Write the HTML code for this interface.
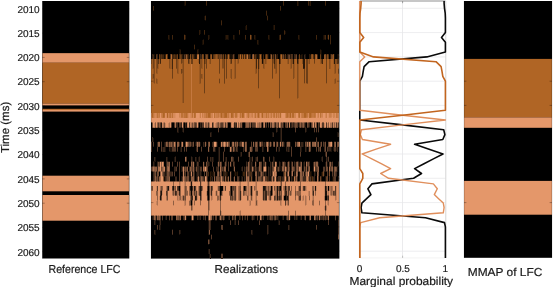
<!DOCTYPE html>
<html><head><meta charset="utf-8"><title>LFC realizations</title>
<style>html,body{margin:0;padding:0;background:#fff;overflow:hidden}svg{display:block}</style>
</head><body>
<svg width="553" height="287" viewBox="0 0 553 287"><rect x="42.3" y="1" width="86.9" height="257.5" fill="#000"/>
<rect x="42.3" y="53.15" width="86.9" height="9.65" fill="#E4976A"/>
<rect x="42.3" y="62.7" width="86.9" height="41" fill="#B06525"/>
<rect x="42.3" y="103.6" width="86.9" height="1.8" fill="#E4976A"/>
<rect x="42.3" y="108.8" width="86.9" height="1.2" fill="#B06525"/>
<rect x="42.3" y="109.8" width="86.9" height="1.8" fill="#E4976A"/>
<rect x="42.3" y="175.7" width="86.9" height="15.6" fill="#E4976A"/>
<rect x="42.3" y="195" width="86.9" height="25.7" fill="#E4976A"/>
<rect x="464" y="1" width="88" height="256.8" fill="#000"/>
<rect x="464" y="58.9" width="88" height="58.6" fill="#B06525"/>
<rect x="464" y="117.4" width="88" height="10.4" fill="#E4976A"/>
<rect x="464" y="180.9" width="88" height="33.8" fill="#E4976A"/>
<rect x="151" y="1" width="188.3" height="257.6" fill="#000"/>
<g shape-rendering="crispEdges">
<path fill="#844c1c" d="M151 59h1v5h-1zM153 68h1v1h-1zM153 78h1v1h-1zM154 59h1v24h-1zM156 59h1v14h-1zM156 79h1v4h-1zM157 68h1v1h-1zM166 54h1v1h-1zM169 59h1v9h-1zM172 78h1v1h-1zM176 68h1v1h-1zM177 59h1v14h-1zM181 63h1v1h-1zM181 73h1v1h-1zM182 59h1v4h-1zM182 69h1v4h-1zM183 59h1v44h-1zM189 59h1v5h-1zM190 55h1v4h-1zM200 59h1v24h-1zM201 59h1v9h-1zM201 74h1v4h-1zM202 55h1v4h-1zM205 59h1v5h-1zM206 68h1v1h-1zM210 59h1v5h-1zM215 55h1v4h-1zM216 54h1v1h-1zM217 55h1v4h-1zM219 73h1v1h-1zM222 59h1v9h-1zM223 59h1v9h-1zM224 83h1v1h-1zM226 78h1v1h-1zM228 54h1v1h-1zM230 59h1v5h-1zM231 69h1v10h-1zM235 59h1v19h-1zM238 59h1v4h-1zM240 54h1v1h-1zM250 35h1v4h-1zM256 69h1v4h-1zM260 54h1v1h-1zM263 64h1v4h-1zM265 59h1v5h-1zM266 55h1v4h-1zM272 78h1v1h-1zM273 59h1v4h-1zM274 68h1v1h-1zM275 59h1v10h-1zM276 59h1v14h-1zM281 54h1v1h-1zM288 59h1v5h-1zM291 59h1v9h-1zM292 59h1v5h-1zM293 64h1v15h-1zM297 64h1v34h-1zM302 59h1v5h-1zM307 83h1v1h-1zM309 59h1v5h-1zM311 55h1v4h-1zM312 54h1v1h-1zM314 63h1v1h-1zM315 54h1v1h-1zM321 63h1v1h-1zM327 55h1v4h-1zM329 59h1v10h-1zM333 54h1v1h-1zM335 59h1v14h-1zM335 79h1v4h-1zM336 59h1v5h-1zM338 73h1v1h-1z"/>
<path fill="#b06525" d="M151 64h1v49h-1zM152 69h1v5h-1zM152 79h1v38h-1zM153 83h1v30h-1zM154 84h1v29h-1zM155 59h1v54h-1zM156 74h1v4h-1zM156 84h1v29h-1zM157 74h1v5h-1zM157 84h1v29h-1zM158 69h1v44h-1zM159 64h1v49h-1zM160 64h1v49h-1zM161 59h1v54h-1zM162 59h1v54h-1zM163 59h1v58h-1zM164 59h1v54h-1zM165 59h1v54h-1zM166 55h1v58h-1zM167 59h1v58h-1zM168 59h1v54h-1zM169 69h1v44h-1zM170 69h1v44h-1zM171 69h1v44h-1zM172 79h1v34h-1zM173 59h1v54h-1zM174 59h1v54h-1zM175 59h1v54h-1zM176 69h1v44h-1zM177 74h1v39h-1zM178 74h1v39h-1zM179 59h1v54h-1zM180 59h1v54h-1zM181 64h1v5h-1zM181 74h1v39h-1zM182 103h1v10h-1zM183 103h1v10h-1zM184 59h1v54h-1zM185 59h1v54h-1zM186 59h1v54h-1zM187 59h1v54h-1zM188 64h1v49h-1zM189 64h1v49h-1zM190 59h1v54h-1zM192 64h1v49h-1zM193 59h1v54h-1zM194 59h1v54h-1zM195 59h1v54h-1zM196 59h1v54h-1zM197 59h1v54h-1zM198 63h1v50h-1zM199 84h1v29h-1zM200 84h1v29h-1zM201 69h1v5h-1zM201 79h1v34h-1zM202 69h1v5h-1zM202 79h1v34h-1zM203 59h1v54h-1zM204 94h1v19h-1zM205 64h1v49h-1zM206 69h1v44h-1zM207 59h1v54h-1zM208 59h1v58h-1zM209 64h1v53h-1zM210 64h1v49h-1zM211 59h1v54h-1zM212 59h1v54h-1zM213 59h1v54h-1zM214 59h1v54h-1zM215 59h1v54h-1zM216 59h1v54h-1zM217 59h1v54h-1zM218 59h1v54h-1zM219 74h1v4h-1zM219 84h1v29h-1zM220 59h1v54h-1zM221 59h1v58h-1zM222 69h1v44h-1zM223 69h1v44h-1zM224 84h1v29h-1zM225 59h1v58h-1zM226 79h1v38h-1zM227 59h1v54h-1zM228 55h1v58h-1zM229 59h1v54h-1zM230 64h1v5h-1zM230 78h1v35h-1zM231 64h1v5h-1zM231 79h1v38h-1zM232 59h1v54h-1zM233 59h1v54h-1zM234 79h1v34h-1zM235 79h1v34h-1zM236 59h1v54h-1zM237 64h1v49h-1zM238 64h1v49h-1zM239 59h1v54h-1zM240 55h1v58h-1zM241 59h1v54h-1zM242 59h1v58h-1zM243 59h1v54h-1zM244 59h1v54h-1zM245 59h1v54h-1zM246 59h1v54h-1zM247 59h1v54h-1zM248 59h1v54h-1zM249 59h1v54h-1zM250 59h1v54h-1zM251 59h1v54h-1zM252 59h1v54h-1zM253 59h1v54h-1zM254 59h1v54h-1zM255 74h1v39h-1zM256 74h1v39h-1zM257 59h1v54h-1zM258 89h1v28h-1zM259 69h1v44h-1zM260 55h1v58h-1zM261 64h1v49h-1zM262 64h1v53h-1zM263 69h1v44h-1zM264 69h1v44h-1zM265 64h1v49h-1zM266 64h1v49h-1zM267 59h1v54h-1zM268 59h1v54h-1zM269 59h1v54h-1zM270 59h1v54h-1zM271 59h1v54h-1zM272 79h1v34h-1zM273 64h1v49h-1zM274 69h1v44h-1zM275 74h1v39h-1zM276 74h1v39h-1zM277 59h1v54h-1zM278 59h1v54h-1zM279 99h1v14h-1zM280 64h1v49h-1zM281 55h1v58h-1zM282 59h1v54h-1zM283 59h1v54h-1zM284 59h1v54h-1zM285 59h1v54h-1zM286 59h1v54h-1zM287 64h1v49h-1zM288 64h1v49h-1zM289 59h1v54h-1zM290 69h1v48h-1zM291 69h1v44h-1zM292 64h1v49h-1zM293 79h1v34h-1zM294 78h1v35h-1zM295 59h1v54h-1zM296 59h1v54h-1zM297 99h1v14h-1zM298 98h1v15h-1zM299 59h1v54h-1zM300 59h1v54h-1zM301 59h1v54h-1zM302 64h1v49h-1zM303 69h1v44h-1zM304 84h1v33h-1zM305 59h1v58h-1zM306 84h1v29h-1zM307 84h1v29h-1zM308 64h1v49h-1zM309 64h1v49h-1zM310 59h1v58h-1zM311 59h1v54h-1zM312 59h1v54h-1zM313 59h1v54h-1zM314 64h1v49h-1zM315 59h1v54h-1zM316 59h1v54h-1zM317 59h1v54h-1zM318 59h1v54h-1zM319 59h1v54h-1zM320 64h1v49h-1zM321 64h1v49h-1zM322 64h1v49h-1zM323 59h1v54h-1zM324 59h1v54h-1zM325 59h1v54h-1zM326 84h1v29h-1zM327 59h1v54h-1zM328 59h1v54h-1zM329 69h1v44h-1zM330 69h1v44h-1zM331 59h1v54h-1zM332 59h1v54h-1zM333 64h1v49h-1zM334 74h1v5h-1zM334 84h1v29h-1zM335 74h1v4h-1zM335 84h1v29h-1zM336 64h1v49h-1zM337 64h1v49h-1zM338 64h1v4h-1zM338 74h1v39h-1z"/>
<path fill="#d08450" d="M151 113h1v4h-1zM154 113h1v5h-1zM156 113h1v5h-1zM161 117h1v1h-1zM168 113h1v5h-1zM171 113h1v5h-1zM179 113h1v4h-1zM191 113h1v5h-1zM202 117h1v1h-1zM211 113h1v5h-1zM212 113h1v5h-1zM215 113h1v5h-1zM219 113h1v4h-1zM237 113h1v4h-1zM241 117h1v1h-1zM244 113h1v5h-1zM247 117h1v1h-1zM249 113h1v4h-1zM251 113h1v4h-1zM252 117h1v1h-1zM254 113h1v5h-1zM261 117h1v1h-1zM263 113h1v5h-1zM264 113h1v5h-1zM265 113h1v5h-1zM267 113h1v5h-1zM270 113h1v5h-1zM277 113h1v4h-1zM279 113h1v5h-1zM285 113h1v5h-1zM291 113h1v5h-1zM294 113h1v5h-1zM295 113h1v5h-1zM307 177h1v4h-1zM318 117h1v1h-1zM321 113h1v4h-1zM322 113h1v4h-1zM329 117h1v1h-1zM330 117h1v1h-1zM331 113h1v4h-1zM333 113h1v5h-1zM334 113h1v4h-1z"/>
<path fill="#d78a59" d="M151 117h1v1h-1zM155 113h1v5h-1zM166 113h1v5h-1zM173 113h1v5h-1zM174 113h1v5h-1zM179 117h1v1h-1zM180 113h1v5h-1zM188 113h1v5h-1zM190 113h1v5h-1zM193 113h1v5h-1zM203 113h1v5h-1zM219 117h1v1h-1zM229 113h1v5h-1zM230 113h1v5h-1zM234 113h1v4h-1zM237 117h1v1h-1zM239 113h1v5h-1zM246 113h1v5h-1zM249 117h1v1h-1zM250 113h1v5h-1zM251 117h1v1h-1zM256 113h1v5h-1zM269 113h1v5h-1zM272 113h1v4h-1zM275 113h1v5h-1zM277 117h1v1h-1zM308 113h1v4h-1zM317 113h1v5h-1zM321 117h1v1h-1zM322 117h1v1h-1zM325 113h1v5h-1zM331 117h1v1h-1zM334 117h1v1h-1zM338 113h1v5h-1z"/>
<path fill="#e4976a" d="M151 118h1v4h-1zM151 182h1v4h-1zM151 191h1v24h-1zM152 118h1v4h-1zM152 182h1v4h-1zM152 191h1v24h-1zM153 118h1v9h-1zM153 182h1v33h-1zM154 118h1v5h-1zM154 182h1v33h-1zM155 118h1v4h-1zM155 182h1v33h-1zM156 118h1v9h-1zM156 182h1v4h-1zM156 196h1v5h-1zM156 205h1v10h-1zM157 118h1v4h-1zM157 182h1v4h-1zM157 206h1v9h-1zM158 118h1v4h-1zM158 182h1v33h-1zM159 118h1v4h-1zM159 182h1v14h-1zM159 200h1v15h-1zM160 113h1v9h-1zM160 162h1v9h-1zM160 182h1v4h-1zM160 201h1v14h-1zM161 118h1v4h-1zM161 172h1v14h-1zM161 201h1v14h-1zM162 118h1v5h-1zM162 162h1v4h-1zM162 177h1v9h-1zM162 195h1v20h-1zM163 118h1v4h-1zM163 182h1v33h-1zM164 118h1v4h-1zM164 182h1v33h-1zM165 118h1v5h-1zM165 182h1v33h-1zM166 118h1v9h-1zM166 182h1v4h-1zM166 201h1v14h-1zM167 118h1v9h-1zM167 182h1v4h-1zM167 201h1v14h-1zM168 118h1v5h-1zM168 182h1v4h-1zM168 191h1v24h-1zM169 118h1v4h-1zM169 182h1v4h-1zM169 191h1v24h-1zM170 118h1v9h-1zM170 182h1v33h-1zM171 118h1v4h-1zM171 182h1v33h-1zM172 118h1v4h-1zM172 182h1v4h-1zM172 196h1v19h-1zM173 118h1v4h-1zM173 196h1v4h-1zM173 206h1v9h-1zM174 118h1v4h-1zM174 182h1v4h-1zM174 196h1v19h-1zM175 118h1v4h-1zM175 182h1v4h-1zM175 196h1v19h-1zM176 113h1v9h-1zM176 182h1v8h-1zM176 196h1v19h-1zM177 113h1v9h-1zM177 182h1v4h-1zM177 201h1v14h-1zM178 113h1v9h-1zM178 182h1v4h-1zM178 201h1v14h-1zM179 118h1v4h-1zM179 201h1v14h-1zM180 118h1v4h-1zM180 201h1v14h-1zM181 118h1v4h-1zM181 182h1v14h-1zM181 201h1v14h-1zM182 118h1v9h-1zM182 182h1v13h-1zM182 201h1v14h-1zM183 118h1v4h-1zM183 181h1v14h-1zM183 201h1v14h-1zM184 118h1v4h-1zM184 206h1v9h-1zM185 118h1v4h-1zM185 206h1v9h-1zM186 118h1v4h-1zM186 142h1v4h-1zM186 182h1v4h-1zM186 196h1v19h-1zM187 118h1v4h-1zM187 182h1v8h-1zM187 196h1v19h-1zM188 118h1v9h-1zM188 182h1v33h-1zM189 118h1v4h-1zM189 182h1v4h-1zM189 196h1v4h-1zM189 206h1v9h-1zM190 118h1v4h-1zM190 206h1v9h-1zM191 118h1v4h-1zM191 211h1v4h-1zM192 118h1v4h-1zM192 211h1v9h-1zM193 118h1v4h-1zM193 182h1v4h-1zM193 196h1v19h-1zM194 118h1v4h-1zM194 182h1v4h-1zM194 206h1v9h-1zM195 118h1v4h-1zM195 182h1v4h-1zM195 201h1v14h-1zM196 113h1v9h-1zM196 182h1v4h-1zM196 201h1v14h-1zM197 113h1v14h-1zM197 182h1v9h-1zM197 200h1v15h-1zM198 113h1v9h-1zM198 182h1v4h-1zM198 196h1v19h-1zM199 118h1v4h-1zM199 182h1v4h-1zM199 196h1v19h-1zM200 118h1v4h-1zM200 206h1v9h-1zM201 113h1v9h-1zM201 201h1v14h-1zM202 118h1v4h-1zM202 182h1v4h-1zM202 191h1v24h-1zM203 118h1v4h-1zM203 182h1v33h-1zM204 118h1v9h-1zM204 182h1v33h-1zM205 118h1v4h-1zM205 167h1v4h-1zM205 177h1v38h-1zM206 118h1v4h-1zM206 182h1v9h-1zM206 196h1v19h-1zM207 118h1v4h-1zM207 201h1v14h-1zM208 118h1v4h-1zM209 118h1v4h-1zM209 211h1v9h-1zM210 118h1v9h-1zM210 182h1v4h-1zM210 196h1v19h-1zM211 118h1v9h-1zM211 182h1v4h-1zM211 201h1v14h-1zM212 118h1v4h-1zM212 182h1v4h-1zM212 200h1v15h-1zM213 113h1v9h-1zM213 182h1v33h-1zM214 118h1v9h-1zM214 142h1v4h-1zM214 182h1v33h-1zM215 118h1v5h-1zM215 142h1v4h-1zM215 182h1v9h-1zM215 196h1v19h-1zM216 118h1v4h-1zM216 182h1v8h-1zM216 196h1v19h-1zM217 118h1v4h-1zM217 182h1v4h-1zM217 201h1v14h-1zM218 118h1v4h-1zM218 182h1v4h-1zM218 191h1v4h-1zM218 201h1v14h-1zM219 118h1v4h-1zM219 182h1v4h-1zM219 201h1v14h-1zM220 118h1v4h-1zM221 118h1v4h-1zM221 181h1v5h-1zM221 200h1v11h-1zM222 118h1v4h-1zM222 182h1v4h-1zM222 196h1v19h-1zM223 118h1v4h-1zM223 182h1v4h-1zM223 191h1v24h-1zM224 118h1v4h-1zM224 142h1v4h-1zM224 182h1v4h-1zM224 191h1v24h-1zM225 118h1v4h-1zM225 182h1v4h-1zM225 191h1v24h-1zM226 118h1v4h-1zM226 182h1v33h-1zM227 118h1v4h-1zM227 182h1v33h-1zM228 118h1v4h-1zM228 182h1v33h-1zM229 118h1v4h-1zM229 182h1v9h-1zM229 196h1v19h-1zM230 118h1v4h-1zM230 182h1v4h-1zM230 201h1v14h-1zM231 118h1v4h-1zM231 182h1v4h-1zM231 201h1v14h-1zM232 118h1v9h-1zM232 182h1v4h-1zM232 201h1v14h-1zM233 118h1v5h-1zM233 182h1v4h-1zM233 201h1v14h-1zM234 118h1v4h-1zM234 182h1v4h-1zM234 201h1v14h-1zM235 118h1v4h-1zM235 182h1v4h-1zM235 201h1v14h-1zM236 118h1v4h-1zM236 182h1v4h-1zM236 200h1v15h-1zM237 118h1v9h-1zM237 182h1v33h-1zM238 117h1v5h-1zM238 182h1v4h-1zM238 201h1v14h-1zM239 118h1v5h-1zM239 201h1v10h-1zM240 118h1v4h-1zM240 201h1v9h-1zM241 118h1v4h-1zM241 182h1v9h-1zM241 200h1v15h-1zM242 118h1v4h-1zM242 182h1v33h-1zM243 118h1v4h-1zM243 182h1v4h-1zM243 196h1v19h-1zM244 118h1v4h-1zM244 182h1v4h-1zM244 196h1v19h-1zM245 113h1v9h-1zM245 182h1v4h-1zM245 196h1v19h-1zM246 118h1v4h-1zM246 182h1v4h-1zM246 196h1v19h-1zM247 118h1v4h-1zM247 201h1v14h-1zM248 118h1v4h-1zM248 201h1v14h-1zM249 118h1v4h-1zM249 182h1v4h-1zM249 196h1v4h-1zM249 206h1v9h-1zM250 118h1v4h-1zM250 182h1v4h-1zM250 206h1v9h-1zM251 118h1v4h-1zM251 182h1v4h-1zM251 201h1v14h-1zM252 118h1v4h-1zM252 182h1v4h-1zM252 201h1v14h-1zM253 118h1v4h-1zM253 182h1v33h-1zM254 118h1v4h-1zM254 182h1v4h-1zM254 191h1v24h-1zM255 118h1v4h-1zM255 206h1v9h-1zM256 118h1v9h-1zM256 206h1v9h-1zM257 118h1v4h-1zM257 182h1v8h-1zM257 196h1v4h-1zM257 206h1v9h-1zM258 118h1v4h-1zM258 182h1v33h-1zM259 118h1v4h-1zM259 182h1v33h-1zM260 118h1v4h-1zM260 182h1v34h-1zM261 118h1v4h-1zM261 182h1v33h-1zM262 118h1v4h-1zM262 182h1v4h-1zM262 200h1v15h-1zM263 118h1v4h-1zM263 182h1v4h-1zM263 201h1v14h-1zM264 118h1v4h-1zM264 167h1v4h-1zM264 182h1v4h-1zM264 201h1v14h-1zM265 118h1v4h-1zM265 167h1v4h-1zM265 182h1v4h-1zM265 201h1v14h-1zM266 118h1v4h-1zM266 182h1v4h-1zM266 201h1v14h-1zM267 118h1v4h-1zM267 182h1v4h-1zM267 196h1v19h-1zM268 118h1v4h-1zM268 182h1v4h-1zM268 200h1v15h-1zM269 118h1v4h-1zM269 182h1v4h-1zM269 201h1v14h-1zM270 118h1v4h-1zM270 182h1v4h-1zM270 201h1v14h-1zM271 118h1v4h-1zM271 182h1v4h-1zM271 200h1v15h-1zM272 118h1v4h-1zM272 182h1v4h-1zM272 196h1v19h-1zM273 118h1v4h-1zM273 172h1v4h-1zM273 182h1v33h-1zM274 118h1v4h-1zM274 182h1v4h-1zM274 201h1v14h-1zM275 118h1v4h-1zM275 167h1v4h-1zM275 177h1v9h-1zM275 201h1v14h-1zM276 118h1v4h-1zM276 182h1v4h-1zM276 201h1v14h-1zM277 118h1v4h-1zM277 182h1v4h-1zM277 201h1v14h-1zM278 118h1v4h-1zM278 182h1v4h-1zM278 201h1v14h-1zM279 118h1v9h-1zM279 182h1v4h-1zM279 201h1v14h-1zM280 118h1v4h-1zM280 206h1v9h-1zM281 118h1v4h-1zM281 206h1v9h-1zM282 113h1v9h-1zM282 182h1v33h-1zM283 113h1v9h-1zM283 182h1v4h-1zM283 191h1v4h-1zM283 201h1v14h-1zM284 113h1v9h-1zM284 182h1v4h-1zM284 201h1v14h-1zM285 118h1v4h-1zM285 206h1v9h-1zM286 118h1v4h-1zM286 182h1v4h-1zM286 205h1v10h-1zM287 118h1v4h-1zM287 182h1v4h-1zM287 206h1v9h-1zM288 118h1v4h-1zM288 182h1v4h-1zM288 206h1v4h-1zM289 118h1v4h-1zM289 182h1v4h-1zM289 196h1v20h-1zM290 118h1v4h-1zM290 182h1v8h-1zM290 196h1v19h-1zM291 118h1v4h-1zM291 182h1v4h-1zM291 196h1v19h-1zM292 118h1v4h-1zM292 182h1v33h-1zM293 118h1v4h-1zM293 182h1v33h-1zM294 118h1v4h-1zM294 182h1v33h-1zM295 118h1v4h-1zM295 182h1v4h-1zM295 201h1v9h-1zM296 113h1v9h-1zM296 182h1v9h-1zM296 196h1v19h-1zM297 113h1v9h-1zM297 182h1v9h-1zM297 196h1v19h-1zM298 118h1v4h-1zM298 182h1v4h-1zM298 201h1v14h-1zM299 118h1v4h-1zM299 182h1v4h-1zM299 201h1v14h-1zM300 118h1v4h-1zM300 201h1v14h-1zM301 118h1v4h-1zM301 182h1v33h-1zM302 118h1v4h-1zM302 182h1v4h-1zM302 191h1v5h-1zM302 201h1v14h-1zM303 118h1v4h-1zM303 182h1v4h-1zM303 191h1v4h-1zM303 201h1v14h-1zM304 118h1v4h-1zM304 182h1v4h-1zM304 191h1v24h-1zM305 118h1v4h-1zM305 182h1v4h-1zM305 191h1v4h-1zM305 206h1v9h-1zM306 118h1v4h-1zM306 182h1v4h-1zM306 191h1v5h-1zM306 205h1v10h-1zM307 118h1v4h-1zM307 182h1v33h-1zM308 118h1v4h-1zM308 172h1v4h-1zM308 182h1v9h-1zM308 196h1v19h-1zM309 118h1v4h-1zM309 182h1v9h-1zM309 201h1v14h-1zM310 118h1v4h-1zM310 182h1v33h-1zM311 118h1v4h-1zM311 182h1v33h-1zM312 118h1v4h-1zM312 182h1v4h-1zM312 206h1v9h-1zM313 118h1v9h-1zM313 182h1v4h-1zM313 206h1v9h-1zM314 118h1v4h-1zM314 167h1v4h-1zM314 182h1v4h-1zM314 191h1v24h-1zM315 118h1v4h-1zM315 182h1v4h-1zM315 196h1v19h-1zM316 113h1v9h-1zM316 182h1v4h-1zM316 191h1v24h-1zM317 118h1v4h-1zM317 182h1v33h-1zM318 118h1v4h-1zM318 182h1v33h-1zM319 113h1v9h-1zM319 182h1v18h-1zM319 206h1v9h-1zM320 118h1v9h-1zM320 182h1v33h-1zM321 118h1v5h-1zM321 182h1v33h-1zM322 118h1v4h-1zM322 182h1v33h-1zM323 113h1v9h-1zM323 182h1v33h-1zM324 113h1v10h-1zM324 182h1v4h-1zM324 201h1v5h-1zM324 210h1v5h-1zM325 118h1v9h-1zM326 118h1v4h-1zM326 182h1v4h-1zM326 201h1v4h-1zM326 211h1v4h-1zM327 113h1v10h-1zM327 182h1v4h-1zM327 205h1v10h-1zM328 118h1v4h-1zM328 182h1v4h-1zM328 206h1v9h-1zM329 118h1v9h-1zM329 182h1v4h-1zM329 191h1v24h-1zM330 118h1v4h-1zM330 182h1v4h-1zM330 196h1v19h-1zM331 118h1v4h-1zM331 142h1v4h-1zM331 182h1v4h-1zM331 196h1v19h-1zM332 117h1v5h-1zM332 182h1v4h-1zM332 196h1v19h-1zM333 118h1v4h-1zM333 182h1v8h-1zM333 196h1v19h-1zM334 118h1v4h-1zM334 182h1v8h-1zM334 196h1v19h-1zM335 118h1v4h-1zM335 182h1v4h-1zM335 201h1v14h-1zM336 118h1v4h-1zM336 182h1v4h-1zM336 200h1v15h-1zM337 118h1v4h-1zM337 182h1v33h-1zM338 118h1v4h-1zM338 182h1v33h-1z"/>
<path fill="#563928" d="M151 122h1v1h-1zM151 142h1v10h-1zM151 167h1v4h-1zM152 127h1v1h-1zM153 142h1v4h-1zM154 166h1v1h-1zM154 172h1v9h-1zM156 171h1v1h-1zM156 177h1v4h-1zM157 147h1v4h-1zM157 171h1v1h-1zM157 186h1v5h-1zM157 225h1v4h-1zM158 123h1v4h-1zM159 162h1v4h-1zM159 171h1v1h-1zM159 176h1v1h-1zM160 123h1v5h-1zM160 191h1v4h-1zM160 216h1v4h-1zM161 142h1v9h-1zM161 190h1v1h-1zM162 216h1v4h-1zM163 172h1v4h-1zM164 127h1v1h-1zM164 166h1v1h-1zM166 176h1v5h-1zM166 191h1v4h-1zM167 186h1v5h-1zM168 190h1v1h-1zM169 172h1v4h-1zM169 216h1v4h-1zM171 123h1v4h-1zM171 216h1v4h-1zM172 122h1v1h-1zM172 142h1v9h-1zM172 162h1v4h-1zM172 172h1v4h-1zM172 186h1v4h-1zM172 216h1v4h-1zM172 230h1v4h-1zM173 122h1v1h-1zM173 142h1v9h-1zM173 181h1v1h-1zM174 123h1v4h-1zM174 147h1v4h-1zM174 172h1v4h-1zM175 147h1v4h-1zM176 167h1v4h-1zM176 191h1v4h-1zM177 147h1v4h-1zM177 162h1v4h-1zM177 186h1v4h-1zM178 122h1v1h-1zM178 190h1v1h-1zM179 123h1v4h-1zM179 162h1v19h-1zM179 195h1v1h-1zM179 216h1v4h-1zM180 123h1v4h-1zM182 167h1v4h-1zM182 177h1v4h-1zM183 123h1v5h-1zM183 166h1v1h-1zM183 196h1v4h-1zM184 55h1v4h-1zM184 122h1v1h-1zM184 147h1v4h-1zM184 167h1v4h-1zM184 216h1v4h-1zM185 142h1v5h-1zM185 172h1v4h-1zM186 147h1v4h-1zM186 157h1v4h-1zM186 167h1v4h-1zM186 177h1v4h-1zM187 172h1v4h-1zM188 146h1v1h-1zM188 162h1v4h-1zM188 172h1v4h-1zM189 123h1v5h-1zM189 142h1v5h-1zM190 146h1v1h-1zM190 171h1v1h-1zM191 161h1v1h-1zM191 181h1v1h-1zM191 216h1v4h-1zM192 127h1v1h-1zM192 162h1v9h-1zM192 176h1v1h-1zM192 190h1v1h-1zM193 146h1v1h-1zM194 127h1v1h-1zM194 191h1v4h-1zM195 123h1v4h-1zM195 186h1v4h-1zM196 127h1v1h-1zM196 142h1v4h-1zM196 171h1v1h-1zM196 191h1v5h-1zM197 162h1v4h-1zM197 177h1v4h-1zM198 123h1v4h-1zM198 146h1v1h-1zM199 122h1v1h-1zM199 186h1v9h-1zM200 167h1v4h-1zM200 176h1v10h-1zM201 147h1v4h-1zM201 167h1v4h-1zM202 123h1v4h-1zM202 176h1v1h-1zM203 123h1v4h-1zM203 171h1v1h-1zM203 177h1v4h-1zM204 166h1v1h-1zM204 172h1v4h-1zM205 166h1v1h-1zM205 216h1v4h-1zM207 157h1v5h-1zM207 166h1v6h-1zM207 186h1v5h-1zM207 196h1v4h-1zM208 123h1v4h-1zM208 182h1v4h-1zM209 181h1v1h-1zM209 186h1v14h-1zM209 221h1v9h-1zM209 234h1v1h-1zM210 220h1v1h-1zM211 195h1v1h-1zM211 235h1v4h-1zM212 162h1v4h-1zM213 142h1v9h-1zM213 167h1v4h-1zM214 147h1v4h-1zM214 172h1v4h-1zM215 216h1v4h-1zM216 176h1v1h-1zM216 216h1v4h-1zM217 171h1v1h-1zM218 127h1v5h-1zM218 167h1v4h-1zM219 177h1v4h-1zM219 186h1v5h-1zM220 127h1v1h-1zM220 200h1v1h-1zM220 211h1v4h-1zM221 123h1v4h-1zM221 162h1v14h-1zM221 216h1v4h-1zM221 225h1v4h-1zM221 254h1v4h-1zM222 123h1v4h-1zM222 146h1v1h-1zM222 167h1v4h-1zM222 176h1v1h-1zM222 225h1v5h-1zM222 254h1v4h-1zM223 152h1v9h-1zM223 177h1v4h-1zM224 147h1v4h-1zM224 166h1v1h-1zM224 171h1v1h-1zM225 123h1v4h-1zM225 186h1v4h-1zM226 146h1v1h-1zM227 127h1v1h-1zM228 122h1v1h-1zM228 146h1v1h-1zM228 162h1v9h-1zM228 176h1v1h-1zM229 122h1v1h-1zM229 142h1v5h-1zM230 166h1v1h-1zM230 186h1v14h-1zM230 221h1v4h-1zM231 151h1v1h-1zM231 161h1v1h-1zM232 157h1v4h-1zM232 186h1v14h-1zM233 162h1v4h-1zM233 186h1v4h-1zM234 147h1v4h-1zM234 166h1v1h-1zM234 176h1v1h-1zM235 123h1v4h-1zM235 186h1v14h-1zM236 142h1v9h-1zM237 177h1v4h-1zM238 157h1v4h-1zM238 177h1v4h-1zM238 221h1v4h-1zM240 127h1v1h-1zM240 142h1v4h-1zM240 181h1v1h-1zM241 142h1v4h-1zM242 216h1v4h-1zM243 122h1v1h-1zM244 122h1v1h-1zM245 123h1v5h-1zM246 151h1v1h-1zM246 166h1v1h-1zM247 167h1v5h-1zM247 216h1v4h-1zM248 172h1v4h-1zM249 123h1v4h-1zM249 161h1v20h-1zM251 142h1v5h-1zM252 54h1v1h-1zM252 123h1v4h-1zM252 157h1v4h-1zM252 166h1v1h-1zM252 216h1v4h-1zM253 123h1v4h-1zM253 167h1v4h-1zM254 123h1v4h-1zM255 127h1v1h-1zM255 147h1v4h-1zM255 167h1v4h-1zM255 176h1v5h-1zM256 147h1v4h-1zM257 142h1v9h-1zM257 157h1v4h-1zM257 216h1v4h-1zM258 176h1v1h-1zM259 142h1v4h-1zM259 171h1v1h-1zM259 176h1v1h-1zM259 221h1v4h-1zM260 172h1v4h-1zM261 123h1v4h-1zM261 142h1v4h-1zM261 162h1v9h-1zM261 177h1v4h-1zM262 122h1v1h-1zM262 142h1v4h-1zM262 172h1v4h-1zM263 161h1v1h-1zM263 166h1v1h-1zM263 172h1v4h-1zM265 176h1v5h-1zM266 123h1v4h-1zM266 167h1v4h-1zM266 176h1v5h-1zM267 122h1v1h-1zM268 123h1v4h-1zM268 146h1v5h-1zM269 122h1v1h-1zM269 157h1v4h-1zM270 196h1v4h-1zM271 123h1v4h-1zM271 177h1v4h-1zM271 216h1v4h-1zM272 167h1v4h-1zM272 216h1v4h-1zM273 146h1v1h-1zM273 166h1v1h-1zM274 127h1v1h-1zM274 166h1v1h-1zM274 196h1v4h-1zM274 216h1v4h-1zM276 142h1v9h-1zM276 171h1v1h-1zM276 176h1v1h-1zM278 123h1v4h-1zM279 191h1v5h-1zM280 196h1v4h-1zM281 123h1v5h-1zM281 181h1v1h-1zM282 127h1v1h-1zM282 162h1v4h-1zM283 142h1v4h-1zM283 171h1v1h-1zM284 122h1v1h-1zM284 162h1v9h-1zM285 123h1v4h-1zM285 201h1v4h-1zM286 123h1v5h-1zM286 171h1v1h-1zM287 171h1v1h-1zM288 55h1v4h-1zM288 186h1v15h-1zM288 216h1v4h-1zM289 167h1v4h-1zM289 186h1v4h-1zM291 147h1v9h-1zM291 171h1v5h-1zM292 123h1v4h-1zM294 123h1v4h-1zM294 167h1v4h-1zM295 128h1v4h-1zM295 176h1v5h-1zM296 127h1v1h-1zM297 123h1v5h-1zM297 176h1v1h-1zM298 166h1v5h-1zM299 123h1v4h-1zM299 166h1v1h-1zM299 186h1v5h-1zM299 196h1v4h-1zM300 152h1v4h-1zM300 162h1v4h-1zM300 186h1v5h-1zM300 196h1v4h-1zM301 123h1v4h-1zM302 127h1v1h-1zM302 172h1v4h-1zM303 171h1v1h-1zM303 176h1v1h-1zM303 186h1v4h-1zM304 123h1v4h-1zM304 166h1v1h-1zM304 171h1v1h-1zM304 190h1v1h-1zM305 146h1v1h-1zM305 172h1v4h-1zM306 122h1v1h-1zM306 142h1v5h-1zM307 127h1v1h-1zM307 162h1v4h-1zM307 171h1v1h-1zM308 123h1v4h-1zM308 142h1v5h-1zM309 216h1v4h-1zM310 122h1v1h-1zM310 147h1v4h-1zM310 177h1v4h-1zM311 123h1v4h-1zM313 195h1v1h-1zM314 123h1v9h-1zM315 162h1v9h-1zM316 128h1v4h-1zM316 138h1v4h-1zM316 147h1v4h-1zM316 167h1v4h-1zM316 225h1v4h-1zM317 122h1v1h-1zM317 142h1v5h-1zM317 216h1v4h-1zM318 123h1v9h-1zM318 147h1v4h-1zM318 166h1v1h-1zM318 176h1v5h-1zM320 146h1v1h-1zM320 151h1v1h-1zM321 146h1v1h-1zM322 123h1v4h-1zM323 123h1v4h-1zM323 142h1v4h-1zM323 167h1v4h-1zM323 216h1v4h-1zM324 167h1v4h-1zM325 151h1v1h-1zM325 181h1v1h-1zM325 200h1v1h-1zM325 210h1v1h-1zM325 216h1v4h-1zM326 123h1v4h-1zM326 161h1v1h-1zM326 186h1v5h-1zM327 147h1v4h-1zM327 171h1v5h-1zM327 196h1v4h-1zM328 157h1v4h-1zM328 220h1v5h-1zM329 162h1v4h-1zM329 176h1v5h-1zM330 167h1v4h-1zM331 166h1v1h-1zM332 123h1v4h-1zM332 162h1v4h-1zM332 172h1v4h-1zM333 191h1v4h-1zM334 147h1v4h-1zM334 176h1v5h-1zM335 147h1v4h-1zM335 172h1v9h-1zM335 186h1v9h-1zM335 216h1v4h-1zM336 123h1v5h-1zM336 171h1v1h-1zM338 123h1v4h-1zM338 220h1v14h-1z"/>
<path fill="#1c130d" d="M151 141h1v1h-1zM151 166h1v1h-1zM151 171h1v1h-1zM152 216h1v4h-1zM153 138h1v4h-1zM153 161h1v1h-1zM154 161h1v5h-1zM154 234h1v1h-1zM155 157h1v5h-1zM155 221h1v4h-1zM155 230h1v5h-1zM156 172h1v4h-1zM156 216h1v4h-1zM157 161h1v1h-1zM157 220h1v1h-1zM158 141h1v1h-1zM158 161h1v1h-1zM158 220h1v1h-1zM159 141h1v1h-1zM159 161h1v1h-1zM159 221h1v4h-1zM160 196h1v4h-1zM160 225h1v5h-1zM161 123h1v5h-1zM161 141h1v1h-1zM161 191h1v4h-1zM162 147h1v5h-1zM162 220h1v1h-1zM164 142h1v5h-1zM165 147h1v5h-1zM165 167h1v9h-1zM165 216h1v4h-1zM166 141h1v1h-1zM167 141h1v1h-1zM167 157h1v4h-1zM168 161h1v1h-1zM168 186h1v4h-1zM169 141h1v1h-1zM169 151h1v1h-1zM169 161h1v1h-1zM169 220h1v1h-1zM170 141h1v1h-1zM170 147h1v5h-1zM170 171h1v1h-1zM170 176h1v1h-1zM171 141h1v1h-1zM171 147h1v5h-1zM171 171h1v1h-1zM171 176h1v1h-1zM171 220h1v1h-1zM172 141h1v1h-1zM172 161h1v1h-1zM172 171h1v1h-1zM172 176h1v1h-1zM172 220h1v1h-1zM172 229h1v1h-1zM173 141h1v1h-1zM173 186h1v4h-1zM174 141h1v1h-1zM174 157h1v5h-1zM174 166h1v1h-1zM174 176h1v1h-1zM175 141h1v1h-1zM175 156h1v1h-1zM175 166h1v1h-1zM175 171h1v1h-1zM175 176h1v1h-1zM176 127h1v1h-1zM176 166h1v1h-1zM176 171h1v1h-1zM176 176h1v1h-1zM176 220h1v1h-1zM177 132h1v1h-1zM177 141h1v1h-1zM177 161h1v1h-1zM177 220h1v1h-1zM178 127h1v6h-1zM178 141h1v1h-1zM178 220h1v1h-1zM179 146h1v1h-1zM179 161h1v1h-1zM179 220h1v1h-1zM179 234h1v1h-1zM180 147h1v5h-1zM180 220h1v1h-1zM180 230h1v4h-1zM181 127h1v1h-1zM181 141h1v1h-1zM181 166h1v6h-1zM181 176h1v5h-1zM182 128h1v4h-1zM182 141h1v1h-1zM182 166h1v1h-1zM182 172h1v4h-1zM183 132h1v1h-1zM183 142h1v5h-1zM184 146h1v1h-1zM184 166h1v1h-1zM184 220h1v1h-1zM185 141h1v1h-1zM185 156h1v1h-1zM185 220h1v1h-1zM186 123h1v5h-1zM186 156h1v1h-1zM186 166h1v1h-1zM186 216h1v4h-1zM187 141h1v1h-1zM188 141h1v1h-1zM188 161h1v1h-1zM189 141h1v1h-1zM189 166h1v1h-1zM189 172h1v9h-1zM190 141h1v1h-1zM190 176h1v5h-1zM190 186h1v4h-1zM191 146h1v1h-1zM191 156h1v1h-1zM191 182h1v4h-1zM191 195h1v1h-1zM191 200h1v1h-1zM191 220h1v1h-1zM192 157h1v4h-1zM192 172h1v4h-1zM193 141h1v1h-1zM193 220h1v1h-1zM194 162h1v5h-1zM194 186h1v5h-1zM195 142h1v4h-1zM195 161h1v1h-1zM195 167h1v4h-1zM195 196h1v4h-1zM196 54h1v5h-1zM196 141h1v1h-1zM196 151h1v1h-1zM196 157h1v9h-1zM196 172h1v9h-1zM197 141h1v1h-1zM197 161h1v1h-1zM198 141h1v1h-1zM198 157h1v5h-1zM198 216h1v4h-1zM199 141h1v1h-1zM199 156h1v1h-1zM199 166h1v11h-1zM199 216h1v4h-1zM200 142h1v4h-1zM200 166h1v1h-1zM200 186h1v10h-1zM201 54h1v1h-1zM201 123h1v5h-1zM201 146h1v1h-1zM201 166h1v1h-1zM201 172h1v4h-1zM203 161h1v1h-1zM204 142h1v5h-1zM204 162h1v4h-1zM204 216h1v4h-1zM205 141h1v1h-1zM205 220h1v1h-1zM206 142h1v4h-1zM206 161h1v1h-1zM207 156h1v1h-1zM207 191h1v4h-1zM208 141h1v1h-1zM208 161h1v1h-1zM208 166h1v1h-1zM208 181h1v1h-1zM208 221h1v14h-1zM208 244h1v1h-1zM208 249h1v5h-1zM209 141h1v1h-1zM209 147h1v5h-1zM209 162h1v4h-1zM209 239h1v1h-1zM209 254h1v4h-1zM210 132h1v1h-1zM210 161h1v1h-1zM210 258h1v1h-1zM211 132h1v5h-1zM211 157h1v5h-1zM211 177h1v4h-1zM211 220h1v1h-1zM211 234h1v1h-1zM211 239h1v1h-1zM212 176h1v1h-1zM212 216h1v4h-1zM213 141h1v1h-1zM213 157h1v5h-1zM213 166h1v1h-1zM214 171h1v1h-1zM215 147h1v5h-1zM215 176h1v5h-1zM215 220h1v1h-1zM216 141h1v1h-1zM216 166h1v1h-1zM216 171h1v1h-1zM216 220h1v1h-1zM217 142h1v5h-1zM217 162h1v5h-1zM218 132h1v1h-1zM218 147h1v14h-1zM219 166h1v1h-1zM219 171h1v1h-1zM220 142h1v5h-1zM220 161h1v1h-1zM220 195h1v1h-1zM220 220h1v1h-1zM221 141h1v1h-1zM221 161h1v1h-1zM221 220h1v1h-1zM221 253h1v1h-1zM222 141h1v1h-1zM222 166h1v1h-1zM222 171h1v1h-1zM222 190h1v1h-1zM222 253h1v1h-1zM223 141h1v1h-1zM223 151h1v1h-1zM223 166h1v1h-1zM223 220h1v1h-1zM224 162h1v4h-1zM224 176h1v5h-1zM225 141h1v1h-1zM225 157h1v4h-1zM226 141h1v1h-1zM226 166h1v1h-1zM227 141h1v1h-1zM228 141h1v1h-1zM228 161h1v1h-1zM228 171h1v1h-1zM228 216h1v4h-1zM229 141h1v1h-1zM229 147h1v5h-1zM230 123h1v5h-1zM230 146h1v1h-1zM230 161h1v1h-1zM231 142h1v4h-1zM231 156h1v1h-1zM231 162h1v5h-1zM231 171h1v10h-1zM231 195h1v1h-1zM232 141h1v1h-1zM232 147h1v5h-1zM232 156h1v1h-1zM232 220h1v1h-1zM233 141h1v1h-1zM233 167h1v4h-1zM233 177h1v4h-1zM234 127h1v1h-1zM234 161h1v1h-1zM234 220h1v5h-1zM235 141h1v1h-1zM235 147h1v5h-1zM236 141h1v1h-1zM237 141h1v1h-1zM238 142h1v4h-1zM238 156h1v1h-1zM239 146h1v1h-1zM239 176h1v5h-1zM240 141h1v1h-1zM240 152h1v5h-1zM240 216h1v4h-1zM241 141h1v1h-1zM241 156h1v1h-1zM241 167h1v4h-1zM241 176h1v5h-1zM242 123h1v5h-1zM242 141h1v1h-1zM242 166h1v1h-1zM242 171h1v1h-1zM242 176h1v1h-1zM242 220h1v1h-1zM243 141h1v1h-1zM244 142h1v9h-1zM244 166h1v1h-1zM244 190h1v1h-1zM244 216h1v4h-1zM245 141h1v1h-1zM245 167h1v14h-1zM246 141h1v1h-1zM246 161h1v1h-1zM247 162h1v4h-1zM247 220h1v1h-1zM248 161h1v1h-1zM249 147h1v4h-1zM250 146h1v1h-1zM250 157h1v14h-1zM250 177h1v4h-1zM251 123h1v4h-1zM251 141h1v1h-1zM251 157h1v5h-1zM251 186h1v9h-1zM251 216h1v4h-1zM251 234h1v1h-1zM252 146h1v1h-1zM252 151h1v1h-1zM252 156h1v1h-1zM252 162h1v4h-1zM252 172h1v9h-1zM252 220h1v1h-1zM252 230h1v5h-1zM253 141h1v1h-1zM253 166h1v1h-1zM253 171h1v1h-1zM254 142h1v5h-1zM254 166h1v6h-1zM254 216h1v4h-1zM255 141h1v1h-1zM255 157h1v4h-1zM256 141h1v1h-1zM256 161h1v6h-1zM257 141h1v1h-1zM257 156h1v1h-1zM257 167h1v14h-1zM257 220h1v1h-1zM258 166h1v1h-1zM259 141h1v1h-1zM259 161h1v1h-1zM259 172h1v4h-1zM259 216h1v4h-1zM260 141h1v1h-1zM260 161h1v1h-1zM260 220h1v1h-1zM261 141h1v1h-1zM261 161h1v1h-1zM261 220h1v1h-1zM262 141h1v1h-1zM262 171h1v1h-1zM262 216h1v4h-1zM263 142h1v10h-1zM263 156h1v1h-1zM263 186h1v5h-1zM264 172h1v4h-1zM264 186h1v4h-1zM265 123h1v5h-1zM265 142h1v5h-1zM265 161h1v1h-1zM266 141h1v1h-1zM266 162h1v4h-1zM266 172h1v4h-1zM267 141h1v1h-1zM267 234h1v1h-1zM268 141h1v1h-1zM268 166h1v1h-1zM268 216h1v4h-1zM268 225h1v9h-1zM269 156h1v1h-1zM269 167h1v14h-1zM270 141h1v1h-1zM270 161h1v1h-1zM270 176h1v5h-1zM270 220h1v1h-1zM271 146h1v1h-1zM271 162h1v14h-1zM271 220h1v1h-1zM272 132h1v5h-1zM272 161h1v1h-1zM272 220h1v1h-1zM273 132h1v1h-1zM273 141h1v1h-1zM273 156h1v1h-1zM273 216h1v4h-1zM274 54h1v5h-1zM274 141h1v1h-1zM274 157h1v9h-1zM274 220h1v1h-1zM275 127h1v1h-1zM275 220h1v1h-1zM276 132h1v1h-1zM276 141h1v1h-1zM276 161h1v1h-1zM277 128h1v4h-1zM277 141h1v1h-1zM277 166h1v1h-1zM277 171h1v1h-1zM277 177h1v4h-1zM277 186h1v14h-1zM278 142h1v10h-1zM278 166h1v1h-1zM278 216h1v9h-1zM279 142h1v5h-1zM279 151h1v1h-1zM279 161h1v1h-1zM279 171h1v1h-1zM279 220h1v1h-1zM280 128h1v13h-1zM280 162h1v9h-1zM280 190h1v1h-1zM281 146h1v1h-1zM281 166h1v6h-1zM281 176h1v5h-1zM282 141h1v1h-1zM282 161h1v1h-1zM282 176h1v1h-1zM282 216h1v4h-1zM283 141h1v1h-1zM283 161h1v1h-1zM284 142h1v5h-1zM284 161h1v1h-1zM285 186h1v4h-1zM285 195h1v1h-1zM286 151h1v1h-1zM286 166h1v1h-1zM286 172h1v4h-1zM287 141h1v1h-1zM287 147h1v5h-1zM287 177h1v4h-1zM287 196h1v4h-1zM287 220h1v1h-1zM288 123h1v5h-1zM288 141h1v1h-1zM288 220h1v1h-1zM289 141h1v1h-1zM289 147h1v5h-1zM289 161h1v1h-1zM289 172h1v4h-1zM289 220h1v1h-1zM289 225h1v5h-1zM290 123h1v5h-1zM290 142h1v5h-1zM290 216h1v4h-1zM291 146h1v1h-1zM291 161h1v1h-1zM292 161h1v1h-1zM292 177h1v4h-1zM293 127h1v1h-1zM294 161h1v1h-1zM295 132h1v1h-1zM295 141h1v1h-1zM295 162h1v14h-1zM295 216h1v4h-1zM296 146h1v1h-1zM296 161h1v1h-1zM297 141h1v1h-1zM297 216h1v4h-1zM298 123h1v4h-1zM298 141h1v1h-1zM298 161h1v1h-1zM299 141h1v1h-1zM299 162h1v4h-1zM299 172h1v9h-1zM300 142h1v4h-1zM300 161h1v1h-1zM300 216h1v4h-1zM301 147h1v5h-1zM301 161h1v1h-1zM303 142h1v5h-1zM303 162h1v9h-1zM304 54h1v1h-1zM304 161h1v1h-1zM304 172h1v4h-1zM305 54h1v5h-1zM305 123h1v4h-1zM305 132h1v1h-1zM305 141h1v1h-1zM305 166h1v1h-1zM305 220h1v1h-1zM306 128h1v4h-1zM306 141h1v1h-1zM306 147h1v5h-1zM307 141h1v1h-1zM307 161h1v1h-1zM307 167h1v4h-1zM308 141h1v1h-1zM308 147h1v5h-1zM308 161h1v1h-1zM309 127h1v1h-1zM309 141h1v1h-1zM309 161h1v1h-1zM309 220h1v1h-1zM310 141h1v1h-1zM310 220h1v1h-1zM312 141h1v1h-1zM313 141h1v1h-1zM313 171h1v1h-1zM313 176h1v1h-1zM314 132h1v1h-1zM314 141h1v1h-1zM314 161h1v1h-1zM314 220h1v1h-1zM315 141h1v1h-1zM315 161h1v1h-1zM315 172h1v4h-1zM315 186h1v4h-1zM315 220h1v1h-1zM316 132h1v1h-1zM317 141h1v1h-1zM317 220h1v1h-1zM318 132h1v1h-1zM318 141h1v1h-1zM318 162h1v4h-1zM318 216h1v4h-1zM319 127h1v1h-1zM319 151h1v1h-1zM319 220h1v1h-1zM321 141h1v1h-1zM321 157h1v4h-1zM322 156h1v1h-1zM323 141h1v1h-1zM323 166h1v1h-1zM323 220h1v1h-1zM324 166h1v1h-1zM324 172h1v4h-1zM325 141h1v1h-1zM325 156h1v1h-1zM325 162h1v10h-1zM325 176h1v5h-1zM325 186h1v10h-1zM325 220h1v1h-1zM326 151h1v1h-1zM326 191h1v5h-1zM327 146h1v1h-1zM327 157h1v9h-1zM328 141h1v1h-1zM328 151h1v1h-1zM328 156h1v1h-1zM328 190h1v1h-1zM329 141h1v1h-1zM329 151h1v1h-1zM329 161h1v1h-1zM330 141h1v1h-1zM330 151h1v1h-1zM330 161h1v1h-1zM330 171h1v1h-1zM331 147h1v5h-1zM332 161h1v1h-1zM333 147h1v4h-1zM333 167h1v9h-1zM334 141h1v1h-1zM335 141h1v1h-1zM335 220h1v1h-1zM336 147h1v4h-1zM336 166h1v1h-1zM336 176h1v1h-1zM337 132h1v5h-1zM337 141h1v1h-1zM337 166h1v6h-1zM338 132h1v1h-1zM338 141h1v1h-1zM338 161h1v1h-1zM338 166h1v1h-1z"/>
<path fill="#724c35" d="M151 181h1v1h-1zM152 123h1v4h-1zM152 167h1v4h-1zM152 181h1v1h-1zM152 186h1v4h-1zM153 166h1v1h-1zM153 171h1v1h-1zM154 171h1v1h-1zM155 127h1v1h-1zM155 172h1v4h-1zM155 216h1v4h-1zM157 127h1v1h-1zM157 172h1v9h-1zM158 146h1v1h-1zM158 162h1v4h-1zM158 172h1v4h-1zM158 216h1v4h-1zM159 127h1v1h-1zM159 146h1v1h-1zM159 166h1v1h-1zM161 122h1v1h-1zM161 167h1v4h-1zM161 186h1v4h-1zM161 196h1v4h-1zM164 123h1v4h-1zM166 146h1v1h-1zM166 195h1v1h-1zM167 142h1v5h-1zM167 162h1v4h-1zM167 171h1v10h-1zM167 191h1v9h-1zM168 162h1v4h-1zM168 172h1v9h-1zM169 171h1v1h-1zM169 176h1v1h-1zM170 142h1v5h-1zM170 181h1v1h-1zM171 181h1v1h-1zM172 181h1v1h-1zM172 190h1v1h-1zM173 191h1v4h-1zM174 181h1v1h-1zM175 142h1v5h-1zM175 186h1v5h-1zM175 195h1v1h-1zM176 122h1v1h-1zM177 122h1v1h-1zM177 181h1v1h-1zM177 190h1v1h-1zM177 216h1v4h-1zM178 146h1v1h-1zM178 181h1v1h-1zM178 216h1v4h-1zM179 181h1v1h-1zM180 181h1v1h-1zM181 122h1v1h-1zM181 142h1v5h-1zM184 176h1v1h-1zM185 161h1v1h-1zM185 167h1v5h-1zM185 176h1v5h-1zM185 186h1v14h-1zM186 122h1v1h-1zM187 171h1v1h-1zM187 176h1v5h-1zM188 142h1v4h-1zM188 176h1v5h-1zM189 181h1v1h-1zM190 142h1v4h-1zM190 181h1v1h-1zM190 191h1v5h-1zM190 200h1v5h-1zM191 166h1v5h-1zM191 206h1v4h-1zM192 123h1v4h-1zM192 195h1v1h-1zM192 200h1v1h-1zM193 142h1v4h-1zM193 172h1v4h-1zM193 216h1v4h-1zM194 123h1v4h-1zM194 195h1v1h-1zM195 181h1v1h-1zM195 190h1v1h-1zM195 195h1v1h-1zM195 200h1v1h-1zM196 123h1v4h-1zM196 167h1v4h-1zM197 147h1v5h-1zM198 142h1v4h-1zM199 146h1v1h-1zM199 195h1v1h-1zM200 122h1v1h-1zM200 200h1v1h-1zM201 122h1v1h-1zM201 176h1v1h-1zM202 177h1v4h-1zM204 171h1v1h-1zM205 127h1v1h-1zM205 146h1v1h-1zM205 171h1v1h-1zM206 127h1v1h-1zM206 162h1v5h-1zM206 171h1v5h-1zM207 181h1v1h-1zM208 142h1v5h-1zM208 151h1v1h-1zM208 201h1v9h-1zM208 216h1v4h-1zM208 240h1v4h-1zM209 146h1v1h-1zM209 220h1v1h-1zM212 186h1v4h-1zM213 127h1v1h-1zM213 181h1v1h-1zM214 176h1v1h-1zM216 146h1v1h-1zM216 177h1v4h-1zM216 191h1v4h-1zM217 127h1v1h-1zM217 172h1v9h-1zM218 123h1v4h-1zM218 166h1v1h-1zM218 171h1v1h-1zM218 176h1v5h-1zM218 186h1v5h-1zM220 123h1v4h-1zM220 176h1v5h-1zM220 210h1v1h-1zM220 215h1v1h-1zM221 195h1v1h-1zM222 142h1v4h-1zM222 177h1v4h-1zM223 127h1v1h-1zM223 216h1v4h-1zM224 181h1v1h-1zM225 162h1v5h-1zM225 171h1v1h-1zM225 176h1v1h-1zM225 190h1v1h-1zM226 142h1v4h-1zM227 123h1v4h-1zM227 181h1v1h-1zM228 142h1v4h-1zM229 181h1v1h-1zM230 122h1v1h-1zM231 147h1v4h-1zM231 157h1v4h-1zM231 196h1v4h-1zM232 146h1v1h-1zM232 181h1v1h-1zM232 216h1v4h-1zM233 151h1v1h-1zM233 181h1v1h-1zM233 190h1v1h-1zM234 122h1v1h-1zM234 186h1v14h-1zM235 146h1v1h-1zM235 181h1v1h-1zM235 216h1v4h-1zM236 181h1v1h-1zM237 146h1v1h-1zM238 127h1v1h-1zM239 181h1v1h-1zM240 123h1v4h-1zM240 186h1v5h-1zM240 215h1v1h-1zM241 127h1v1h-1zM241 181h1v1h-1zM242 122h1v1h-1zM243 181h1v1h-1zM243 186h1v9h-1zM245 151h1v1h-1zM246 127h1v1h-1zM246 142h1v9h-1zM246 167h1v4h-1zM247 127h1v1h-1zM247 176h1v1h-1zM247 196h1v4h-1zM248 127h1v1h-1zM248 171h1v1h-1zM249 152h1v5h-1zM250 127h1v1h-1zM250 151h1v1h-1zM250 181h1v1h-1zM251 122h1v1h-1zM251 147h1v5h-1zM251 196h1v4h-1zM252 55h1v4h-1zM252 171h1v1h-1zM253 146h1v1h-1zM253 181h1v1h-1zM254 181h1v1h-1zM255 123h1v4h-1zM255 142h1v5h-1zM255 166h1v1h-1zM255 171h1v1h-1zM256 171h1v1h-1zM256 191h1v4h-1zM256 201h1v4h-1zM257 191h1v4h-1zM258 177h1v4h-1zM259 127h1v1h-1zM259 177h1v4h-1zM260 162h1v10h-1zM260 176h1v5h-1zM261 171h1v1h-1zM261 176h1v1h-1zM261 216h1v4h-1zM263 127h1v1h-1zM263 157h1v4h-1zM263 171h1v1h-1zM264 166h1v1h-1zM264 191h1v9h-1zM265 122h1v1h-1zM266 146h1v1h-1zM266 190h1v1h-1zM268 142h1v4h-1zM268 186h1v9h-1zM270 127h1v1h-1zM270 146h1v1h-1zM270 190h1v1h-1zM270 216h1v4h-1zM272 162h1v5h-1zM272 171h1v5h-1zM272 186h1v9h-1zM273 142h1v4h-1zM273 167h1v4h-1zM273 176h1v1h-1zM274 123h1v4h-1zM274 146h1v1h-1zM274 186h1v4h-1zM275 122h1v1h-1zM275 196h1v4h-1zM275 216h1v4h-1zM276 127h1v1h-1zM276 166h1v1h-1zM277 146h1v1h-1zM277 181h1v1h-1zM277 200h1v1h-1zM278 167h1v4h-1zM278 186h1v5h-1zM278 196h1v4h-1zM280 195h1v1h-1zM281 182h1v18h-1zM282 123h1v4h-1zM282 146h1v1h-1zM282 166h1v1h-1zM283 122h1v1h-1zM284 195h1v1h-1zM284 200h1v1h-1zM285 166h1v1h-1zM286 167h1v4h-1zM286 186h1v5h-1zM286 200h1v1h-1zM287 127h1v1h-1zM287 146h1v1h-1zM287 172h1v4h-1zM287 200h1v1h-1zM287 216h1v4h-1zM288 122h1v1h-1zM288 146h1v1h-1zM288 201h1v4h-1zM288 215h1v1h-1zM289 146h1v1h-1zM289 176h1v1h-1zM289 190h1v1h-1zM290 122h1v1h-1zM290 181h1v1h-1zM290 191h1v4h-1zM291 122h1v1h-1zM292 162h1v5h-1zM292 181h1v1h-1zM293 122h1v1h-1zM293 167h1v4h-1zM295 123h1v5h-1zM295 142h1v5h-1zM295 191h1v5h-1zM295 215h1v1h-1zM296 123h1v4h-1zM296 162h1v9h-1zM297 146h1v1h-1zM298 122h1v1h-1zM298 181h1v1h-1zM299 171h1v1h-1zM300 127h1v1h-1zM300 166h1v1h-1zM300 195h1v1h-1zM302 123h1v4h-1zM302 176h1v5h-1zM303 127h1v1h-1zM303 190h1v1h-1zM304 167h1v4h-1zM305 122h1v1h-1zM305 142h1v4h-1zM305 216h1v4h-1zM307 123h1v4h-1zM308 162h1v9h-1zM309 122h1v1h-1zM309 151h1v1h-1zM309 166h1v1h-1zM309 171h1v1h-1zM310 142h1v5h-1zM312 127h1v1h-1zM312 146h1v1h-1zM313 146h1v1h-1zM313 190h1v1h-1zM314 146h1v1h-1zM315 181h1v1h-1zM315 216h1v4h-1zM316 123h1v5h-1zM316 166h1v1h-1zM316 181h1v1h-1zM317 167h1v5h-1zM318 172h1v4h-1zM319 122h1v1h-1zM319 181h1v1h-1zM320 147h1v4h-1zM321 142h1v4h-1zM322 181h1v1h-1zM323 181h1v1h-1zM324 181h1v1h-1zM325 142h1v9h-1zM325 205h1v1h-1zM325 215h1v1h-1zM326 152h1v5h-1zM326 162h1v9h-1zM326 200h1v1h-1zM327 167h1v4h-1zM328 127h1v1h-1zM328 142h1v5h-1zM328 181h1v1h-1zM328 195h1v1h-1zM328 200h1v1h-1zM329 166h1v1h-1zM330 166h1v1h-1zM330 181h1v1h-1zM331 167h1v4h-1zM331 181h1v1h-1zM332 166h1v1h-1zM332 171h1v1h-1zM332 181h1v1h-1zM334 127h1v1h-1zM334 142h1v5h-1zM334 167h1v9h-1zM334 191h1v4h-1zM335 171h1v1h-1zM335 195h1v1h-1zM336 167h1v4h-1zM336 181h1v1h-1zM337 142h1v5h-1zM337 181h1v1h-1zM338 146h1v1h-1zM338 234h1v1h-1z"/>
<path fill="#8e5e42" d="M151 186h1v4h-1zM151 215h1v1h-1zM152 190h1v1h-1zM152 215h1v1h-1zM153 181h1v1h-1zM153 215h1v1h-1zM154 167h1v4h-1zM154 216h1v4h-1zM155 123h1v4h-1zM155 167h1v5h-1zM155 176h1v5h-1zM156 167h1v4h-1zM156 181h1v1h-1zM156 191h1v4h-1zM156 215h1v1h-1zM157 123h1v4h-1zM157 191h1v9h-1zM157 216h1v4h-1zM158 122h1v1h-1zM158 142h1v4h-1zM158 166h1v1h-1zM158 171h1v1h-1zM158 181h1v1h-1zM159 123h1v4h-1zM159 142h1v4h-1zM159 177h1v4h-1zM159 216h1v4h-1zM160 122h1v1h-1zM160 172h1v4h-1zM160 190h1v1h-1zM160 200h1v1h-1zM161 162h1v5h-1zM161 215h1v1h-1zM162 167h1v9h-1zM162 186h1v4h-1zM163 127h1v1h-1zM163 171h1v1h-1zM163 215h1v1h-1zM164 171h1v1h-1zM164 215h1v1h-1zM165 181h1v1h-1zM165 215h1v1h-1zM166 142h1v4h-1zM167 166h1v5h-1zM167 215h1v1h-1zM168 166h1v1h-1zM168 171h1v1h-1zM168 215h1v1h-1zM169 127h1v1h-1zM169 142h1v5h-1zM169 162h1v9h-1zM169 177h1v4h-1zM170 215h1v1h-1zM171 122h1v1h-1zM171 142h1v5h-1zM173 182h1v4h-1zM173 195h1v1h-1zM173 201h1v4h-1zM173 215h1v1h-1zM174 122h1v1h-1zM174 186h1v4h-1zM174 215h1v1h-1zM175 127h1v1h-1zM175 181h1v1h-1zM175 215h1v1h-1zM176 181h1v1h-1zM176 195h1v1h-1zM176 216h1v4h-1zM177 142h1v5h-1zM178 142h1v4h-1zM179 122h1v1h-1zM180 122h1v1h-1zM180 186h1v14h-1zM180 216h1v4h-1zM181 181h1v1h-1zM181 215h1v1h-1zM182 181h1v1h-1zM182 215h1v1h-1zM183 122h1v1h-1zM183 200h1v1h-1zM184 177h1v4h-1zM184 196h1v4h-1zM185 122h1v1h-1zM185 181h1v1h-1zM185 200h1v1h-1zM186 181h1v1h-1zM186 186h1v9h-1zM186 215h1v1h-1zM187 127h1v1h-1zM187 146h1v1h-1zM187 167h1v4h-1zM187 191h1v4h-1zM187 215h1v1h-1zM188 215h1v1h-1zM189 122h1v1h-1zM189 186h1v9h-1zM189 201h1v4h-1zM189 215h1v1h-1zM190 127h1v1h-1zM190 167h1v4h-1zM190 196h1v4h-1zM190 215h1v1h-1zM191 127h1v1h-1zM191 162h1v4h-1zM191 171h1v1h-1zM191 176h1v5h-1zM192 177h1v4h-1zM192 191h1v4h-1zM192 201h1v4h-1zM193 127h1v1h-1zM193 167h1v5h-1zM193 176h1v5h-1zM194 122h1v1h-1zM194 181h1v1h-1zM194 201h1v4h-1zM194 215h1v1h-1zM195 122h1v1h-1zM195 191h1v4h-1zM195 215h1v1h-1zM196 181h1v1h-1zM196 200h1v1h-1zM196 215h1v1h-1zM197 181h1v1h-1zM198 122h1v1h-1zM198 176h1v1h-1zM198 215h1v1h-1zM199 142h1v4h-1zM199 181h1v1h-1zM199 215h1v1h-1zM200 201h1v4h-1zM200 215h1v1h-1zM201 177h1v4h-1zM201 191h1v9h-1zM201 215h1v1h-1zM202 122h1v1h-1zM202 186h1v4h-1zM202 215h1v1h-1zM203 122h1v1h-1zM203 162h1v5h-1zM204 167h1v4h-1zM204 181h1v1h-1zM204 215h1v1h-1zM205 123h1v4h-1zM205 142h1v4h-1zM206 123h1v4h-1zM206 167h1v4h-1zM206 176h1v1h-1zM206 215h1v1h-1zM207 127h1v1h-1zM207 200h1v1h-1zM207 215h1v1h-1zM208 122h1v1h-1zM208 147h1v4h-1zM208 210h1v6h-1zM209 127h1v1h-1zM209 142h1v4h-1zM209 200h1v1h-1zM209 230h1v4h-1zM211 181h1v1h-1zM211 216h1v4h-1zM212 122h1v1h-1zM212 181h1v1h-1zM212 190h1v1h-1zM212 215h1v1h-1zM213 123h1v4h-1zM214 177h1v4h-1zM214 215h1v1h-1zM215 181h1v1h-1zM216 127h1v1h-1zM216 142h1v4h-1zM216 195h1v1h-1zM217 123h1v4h-1zM217 196h1v4h-1zM217 215h1v1h-1zM218 122h1v1h-1zM218 162h1v4h-1zM218 172h1v4h-1zM218 196h1v4h-1zM218 215h1v1h-1zM219 127h1v1h-1zM219 181h1v1h-1zM219 215h1v1h-1zM220 162h1v5h-1zM220 172h1v4h-1zM220 181h1v5h-1zM220 201h1v9h-1zM221 122h1v1h-1zM221 215h1v1h-1zM222 122h1v1h-1zM222 215h1v1h-1zM223 123h1v4h-1zM223 146h1v1h-1zM224 127h1v1h-1zM224 167h1v4h-1zM225 122h1v1h-1zM225 146h1v1h-1zM225 167h1v4h-1zM225 177h1v4h-1zM225 215h1v1h-1zM226 127h1v1h-1zM226 215h1v1h-1zM227 122h1v1h-1zM227 215h1v1h-1zM228 177h1v4h-1zM228 215h1v1h-1zM229 191h1v4h-1zM229 215h1v1h-1zM230 162h1v4h-1zM230 172h1v9h-1zM230 215h1v1h-1zM231 127h1v1h-1zM231 181h1v1h-1zM231 215h1v1h-1zM232 142h1v4h-1zM232 200h1v1h-1zM233 146h1v5h-1zM233 196h1v4h-1zM234 167h1v4h-1zM234 177h1v4h-1zM234 215h1v1h-1zM235 122h1v1h-1zM235 142h1v4h-1zM235 200h1v1h-1zM236 122h1v1h-1zM236 215h1v1h-1zM237 142h1v4h-1zM237 181h1v1h-1zM237 215h1v1h-1zM238 123h1v4h-1zM238 181h1v1h-1zM238 215h1v1h-1zM239 186h1v14h-1zM239 215h1v1h-1zM240 200h1v1h-1zM241 123h1v4h-1zM241 215h1v1h-1zM242 181h1v1h-1zM243 195h1v1h-1zM243 215h1v1h-1zM244 181h1v1h-1zM244 191h1v4h-1zM244 215h1v1h-1zM245 122h1v1h-1zM245 142h1v9h-1zM245 181h1v1h-1zM246 123h1v4h-1zM246 171h1v1h-1zM246 186h1v5h-1zM246 215h1v1h-1zM247 123h1v4h-1zM247 177h1v4h-1zM248 123h1v4h-1zM248 162h1v9h-1zM248 176h1v1h-1zM248 215h1v1h-1zM249 122h1v1h-1zM249 181h1v1h-1zM249 215h1v1h-1zM250 123h1v4h-1zM250 147h1v4h-1zM250 186h1v9h-1zM250 215h1v1h-1zM251 215h1v1h-1zM252 122h1v1h-1zM252 181h1v1h-1zM253 122h1v1h-1zM253 142h1v4h-1zM254 122h1v1h-1zM254 186h1v4h-1zM254 215h1v1h-1zM255 162h1v4h-1zM255 172h1v4h-1zM255 181h1v1h-1zM255 215h1v1h-1zM256 142h1v5h-1zM256 172h1v9h-1zM256 195h1v1h-1zM256 200h1v1h-1zM256 215h1v1h-1zM257 127h1v1h-1zM257 181h1v1h-1zM257 195h1v1h-1zM258 127h1v1h-1zM258 215h1v1h-1zM259 123h1v4h-1zM259 162h1v9h-1zM259 215h1v1h-1zM260 127h1v1h-1zM260 146h1v1h-1zM261 122h1v1h-1zM261 172h1v4h-1zM261 181h1v1h-1zM262 181h1v1h-1zM262 215h1v1h-1zM263 123h1v4h-1zM263 167h1v4h-1zM263 176h1v1h-1zM263 200h1v1h-1zM264 127h1v1h-1zM264 171h1v1h-1zM264 176h1v1h-1zM264 215h1v1h-1zM265 162h1v4h-1zM265 171h1v1h-1zM265 200h1v1h-1zM265 215h1v1h-1zM266 122h1v1h-1zM266 142h1v4h-1zM266 186h1v4h-1zM266 200h1v1h-1zM266 215h1v1h-1zM267 151h1v1h-1zM267 191h1v4h-1zM268 122h1v1h-1zM268 181h1v1h-1zM268 195h1v1h-1zM268 215h1v1h-1zM269 181h1v1h-1zM269 191h1v9h-1zM269 215h1v1h-1zM270 123h1v4h-1zM270 142h1v4h-1zM270 181h1v1h-1zM270 186h1v4h-1zM271 122h1v1h-1zM271 181h1v1h-1zM272 127h1v1h-1zM273 127h1v1h-1zM273 181h1v1h-1zM273 215h1v1h-1zM274 122h1v1h-1zM274 142h1v4h-1zM274 177h1v4h-1zM274 190h1v1h-1zM274 200h1v1h-1zM275 195h1v1h-1zM276 123h1v4h-1zM276 162h1v4h-1zM276 172h1v4h-1zM276 181h1v1h-1zM276 186h1v14h-1zM276 215h1v1h-1zM277 123h1v5h-1zM277 142h1v4h-1zM278 122h1v1h-1zM278 181h1v1h-1zM278 215h1v1h-1zM279 181h1v1h-1zM279 200h1v1h-1zM279 215h1v1h-1zM280 127h1v1h-1zM280 146h1v1h-1zM280 191h1v4h-1zM280 200h1v1h-1zM280 215h1v1h-1zM281 122h1v1h-1zM281 215h1v1h-1zM282 142h1v4h-1zM282 167h1v4h-1zM282 181h1v1h-1zM282 215h1v1h-1zM283 162h1v9h-1zM283 181h1v1h-1zM284 177h1v4h-1zM284 186h1v9h-1zM284 215h1v1h-1zM285 122h1v1h-1zM285 182h1v4h-1zM285 205h1v1h-1zM285 215h1v1h-1zM286 122h1v1h-1zM287 123h1v4h-1zM287 142h1v4h-1zM287 181h1v1h-1zM287 195h1v1h-1zM288 142h1v4h-1zM288 162h1v9h-1zM288 176h1v5h-1zM288 211h1v4h-1zM289 127h1v1h-1zM289 142h1v4h-1zM290 195h1v1h-1zM290 215h1v1h-1zM291 181h1v1h-1zM291 186h1v5h-1zM291 215h1v1h-1zM292 122h1v1h-1zM292 167h1v4h-1zM292 215h1v1h-1zM293 215h1v1h-1zM294 122h1v1h-1zM295 186h1v5h-1zM295 196h1v4h-1zM295 211h1v4h-1zM296 171h1v1h-1zM296 177h1v4h-1zM297 122h1v1h-1zM297 142h1v4h-1zM297 162h1v14h-1zM297 181h1v1h-1zM297 191h1v4h-1zM297 215h1v1h-1zM298 146h1v1h-1zM298 191h1v5h-1zM298 215h1v1h-1zM299 122h1v1h-1zM299 146h1v1h-1zM299 181h1v1h-1zM299 191h1v5h-1zM299 200h1v1h-1zM299 215h1v1h-1zM300 123h1v4h-1zM300 172h1v14h-1zM300 191h1v4h-1zM300 200h1v1h-1zM300 215h1v1h-1zM301 122h1v1h-1zM301 162h1v19h-1zM302 215h1v1h-1zM303 123h1v4h-1zM303 172h1v4h-1zM303 181h1v1h-1zM303 215h1v1h-1zM304 122h1v1h-1zM304 181h1v1h-1zM305 181h1v1h-1zM305 186h1v4h-1zM306 166h1v6h-1zM306 215h1v1h-1zM307 146h1v1h-1zM307 172h1v4h-1zM307 215h1v1h-1zM308 122h1v1h-1zM308 177h1v4h-1zM308 215h1v1h-1zM309 147h1v4h-1zM309 167h1v4h-1zM309 181h1v1h-1zM309 196h1v4h-1zM310 181h1v1h-1zM311 122h1v1h-1zM311 215h1v1h-1zM312 123h1v4h-1zM312 142h1v4h-1zM312 186h1v9h-1zM312 201h1v4h-1zM312 215h1v1h-1zM313 142h1v4h-1zM313 181h1v1h-1zM313 186h1v4h-1zM313 200h1v5h-1zM313 215h1v1h-1zM314 122h1v1h-1zM314 142h1v4h-1zM314 162h1v4h-1zM314 171h1v1h-1zM314 181h1v1h-1zM315 127h1v1h-1zM315 146h1v1h-1zM315 191h1v4h-1zM316 122h1v1h-1zM316 162h1v4h-1zM316 215h1v1h-1zM317 162h1v5h-1zM317 172h1v4h-1zM318 122h1v1h-1zM318 142h1v5h-1zM318 167h1v5h-1zM318 181h1v1h-1zM318 215h1v1h-1zM319 201h1v4h-1zM322 122h1v1h-1zM322 215h1v1h-1zM323 122h1v1h-1zM325 182h1v4h-1zM325 201h1v4h-1zM325 211h1v4h-1zM326 122h1v1h-1zM326 215h1v1h-1zM327 181h1v1h-1zM327 195h1v1h-1zM327 200h1v1h-1zM328 123h1v4h-1zM329 146h1v1h-1zM329 181h1v1h-1zM329 215h1v1h-1zM330 127h1v1h-1zM330 162h1v4h-1zM330 215h1v1h-1zM331 127h1v1h-1zM331 186h1v9h-1zM331 215h1v1h-1zM332 122h1v1h-1zM332 167h1v4h-1zM332 215h1v1h-1zM333 195h1v1h-1zM333 215h1v1h-1zM334 123h1v4h-1zM334 181h1v1h-1zM334 195h1v1h-1zM334 215h1v1h-1zM335 127h1v1h-1zM335 142h1v5h-1zM335 167h1v4h-1zM335 181h1v1h-1zM336 122h1v1h-1zM336 215h1v1h-1zM337 127h1v1h-1zM337 215h1v1h-1zM338 122h1v1h-1zM338 142h1v4h-1zM338 181h1v1h-1zM338 235h1v4h-1z"/>
<path fill="#ab7150" d="M151 190h1v1h-1zM152 122h1v1h-1zM153 127h1v1h-1zM153 167h1v4h-1zM154 127h1v1h-1zM154 181h1v1h-1zM155 122h1v1h-1zM155 215h1v1h-1zM156 127h1v1h-1zM156 195h1v1h-1zM157 122h1v1h-1zM157 181h1v1h-1zM157 200h1v5h-1zM158 167h1v4h-1zM158 215h1v1h-1zM159 122h1v1h-1zM159 167h1v4h-1zM159 181h1v1h-1zM160 171h1v1h-1zM160 176h1v5h-1zM160 186h1v4h-1zM160 215h1v1h-1zM161 171h1v1h-1zM161 200h1v1h-1zM162 127h1v1h-1zM162 190h1v1h-1zM162 215h1v1h-1zM163 123h1v4h-1zM163 162h1v9h-1zM164 122h1v1h-1zM165 127h1v1h-1zM166 127h1v1h-1zM166 181h1v1h-1zM166 186h1v5h-1zM166 196h1v4h-1zM166 215h1v1h-1zM167 127h1v1h-1zM167 181h1v1h-1zM167 200h1v1h-1zM168 127h1v1h-1zM168 167h1v4h-1zM168 181h1v1h-1zM169 123h1v4h-1zM169 181h1v1h-1zM169 215h1v1h-1zM170 127h1v1h-1zM171 215h1v1h-1zM172 191h1v4h-1zM172 215h1v1h-1zM174 146h1v1h-1zM174 190h1v5h-1zM175 123h1v4h-1zM177 191h1v9h-1zM177 215h1v1h-1zM178 191h1v4h-1zM178 215h1v1h-1zM179 182h1v4h-1zM179 196h1v4h-1zM179 215h1v1h-1zM182 127h1v1h-1zM182 146h1v1h-1zM182 196h1v4h-1zM183 195h1v1h-1zM183 215h1v1h-1zM184 181h1v1h-1zM184 186h1v10h-1zM184 200h1v1h-1zM184 215h1v1h-1zM185 157h1v4h-1zM185 182h1v4h-1zM185 201h1v4h-1zM186 195h1v1h-1zM187 142h1v4h-1zM187 181h1v1h-1zM187 195h1v1h-1zM188 127h1v1h-1zM188 181h1v1h-1zM189 195h1v1h-1zM189 205h1v1h-1zM190 182h1v4h-1zM190 205h1v1h-1zM191 123h1v4h-1zM191 210h1v1h-1zM191 215h1v1h-1zM192 122h1v1h-1zM192 181h1v1h-1zM192 205h1v5h-1zM193 123h1v4h-1zM193 162h1v5h-1zM193 186h1v9h-1zM193 215h1v1h-1zM194 200h1v1h-1zM196 122h1v1h-1zM196 190h1v1h-1zM197 127h1v1h-1zM197 142h1v5h-1zM197 215h1v1h-1zM198 186h1v9h-1zM201 181h1v1h-1zM201 200h1v1h-1zM202 181h1v1h-1zM202 190h1v1h-1zM203 167h1v4h-1zM203 181h1v1h-1zM203 215h1v1h-1zM204 127h1v1h-1zM205 122h1v1h-1zM205 176h1v1h-1zM205 215h1v1h-1zM206 122h1v1h-1zM206 177h1v4h-1zM207 123h1v4h-1zM207 182h1v4h-1zM209 123h1v4h-1zM209 182h1v4h-1zM209 201h1v9h-1zM210 127h1v1h-1zM210 186h1v9h-1zM210 216h1v4h-1zM211 127h1v1h-1zM211 196h1v4h-1zM213 122h1v1h-1zM213 215h1v1h-1zM214 127h1v1h-1zM214 181h1v1h-1zM215 127h1v1h-1zM215 215h1v1h-1zM216 123h1v4h-1zM216 181h1v1h-1zM216 215h1v1h-1zM217 122h1v1h-1zM217 181h1v1h-1zM217 195h1v1h-1zM217 200h1v1h-1zM218 181h1v1h-1zM219 123h1v4h-1zM219 191h1v9h-1zM220 122h1v1h-1zM220 167h1v5h-1zM220 216h1v4h-1zM221 146h1v1h-1zM221 176h1v1h-1zM222 181h1v1h-1zM222 191h1v5h-1zM223 122h1v1h-1zM223 142h1v4h-1zM223 181h1v1h-1zM223 186h1v5h-1zM223 215h1v1h-1zM224 215h1v1h-1zM225 142h1v4h-1zM225 181h1v1h-1zM226 123h1v4h-1zM227 146h1v1h-1zM228 181h1v1h-1zM229 195h1v1h-1zM230 151h1v1h-1zM230 181h1v1h-1zM230 200h1v1h-1zM231 200h1v1h-1zM232 127h1v1h-1zM232 215h1v1h-1zM233 127h1v1h-1zM233 142h1v4h-1zM233 191h1v5h-1zM233 215h1v1h-1zM234 181h1v1h-1zM234 200h1v1h-1zM237 127h1v1h-1zM238 122h1v1h-1zM238 186h1v14h-1zM239 127h1v1h-1zM239 200h1v1h-1zM240 122h1v1h-1zM240 182h1v4h-1zM240 211h1v4h-1zM241 122h1v1h-1zM242 146h1v1h-1zM242 215h1v1h-1zM243 142h1v5h-1zM244 195h1v1h-1zM245 191h1v4h-1zM245 215h1v1h-1zM246 122h1v1h-1zM246 172h1v9h-1zM246 191h1v5h-1zM247 122h1v1h-1zM247 181h1v1h-1zM247 195h1v1h-1zM247 200h1v1h-1zM247 215h1v1h-1zM248 122h1v1h-1zM248 177h1v23h-1zM250 122h1v1h-1zM250 195h1v1h-1zM250 201h1v4h-1zM251 200h1v1h-1zM252 167h1v4h-1zM252 186h1v10h-1zM252 215h1v1h-1zM253 215h1v1h-1zM254 190h1v1h-1zM255 122h1v1h-1zM255 186h1v4h-1zM256 127h1v1h-1zM256 181h1v10h-1zM256 196h1v4h-1zM256 205h1v1h-1zM257 123h1v4h-1zM257 215h1v1h-1zM258 123h1v4h-1zM258 181h1v1h-1zM259 122h1v1h-1zM259 181h1v1h-1zM260 123h1v4h-1zM260 142h1v4h-1zM260 181h1v1h-1zM263 122h1v1h-1zM263 177h1v4h-1zM263 215h1v1h-1zM264 200h1v1h-1zM265 166h1v1h-1zM265 181h1v1h-1zM266 181h1v1h-1zM267 147h1v4h-1zM267 186h1v5h-1zM267 195h1v1h-1zM267 215h1v1h-1zM269 186h1v5h-1zM270 122h1v1h-1zM270 200h1v1h-1zM270 215h1v1h-1zM271 215h1v1h-1zM272 123h1v4h-1zM272 176h1v5h-1zM272 195h1v1h-1zM272 215h1v1h-1zM273 123h1v4h-1zM273 171h1v1h-1zM274 172h1v5h-1zM274 195h1v1h-1zM274 215h1v1h-1zM275 186h1v9h-1zM275 200h1v1h-1zM275 215h1v1h-1zM276 122h1v1h-1zM276 200h1v1h-1zM277 122h1v1h-1zM277 215h1v1h-1zM278 191h1v5h-1zM278 200h1v1h-1zM279 127h1v1h-1zM280 123h1v4h-1zM280 182h1v4h-1zM280 201h1v4h-1zM281 200h1v1h-1zM282 122h1v1h-1zM283 186h1v4h-1zM283 196h1v4h-1zM283 215h1v1h-1zM285 171h1v1h-1zM285 181h1v1h-1zM286 215h1v1h-1zM287 122h1v1h-1zM287 186h1v9h-1zM287 201h1v4h-1zM287 215h1v1h-1zM288 171h1v1h-1zM288 181h1v1h-1zM288 205h1v1h-1zM289 177h1v4h-1zM289 191h1v4h-1zM291 191h1v4h-1zM292 171h1v5h-1zM294 215h1v1h-1zM295 122h1v1h-1zM295 181h1v1h-1zM296 122h1v1h-1zM296 172h1v5h-1zM296 191h1v4h-1zM296 215h1v1h-1zM297 195h1v1h-1zM298 142h1v4h-1zM298 186h1v5h-1zM298 196h1v4h-1zM300 122h1v1h-1zM300 167h1v5h-1zM301 181h1v1h-1zM301 215h1v1h-1zM302 122h1v1h-1zM302 181h1v1h-1zM303 122h1v1h-1zM303 196h1v4h-1zM304 215h1v1h-1zM305 190h1v1h-1zM305 196h1v9h-1zM305 215h1v1h-1zM306 162h1v4h-1zM306 172h1v9h-1zM307 122h1v1h-1zM307 142h1v4h-1zM308 171h1v1h-1zM308 176h1v1h-1zM309 146h1v1h-1zM309 191h1v5h-1zM309 215h1v1h-1zM310 216h1v4h-1zM312 122h1v1h-1zM312 195h1v1h-1zM312 200h1v1h-1zM313 127h1v1h-1zM313 196h1v4h-1zM313 205h1v1h-1zM314 166h1v1h-1zM314 216h1v4h-1zM315 142h1v4h-1zM315 195h1v1h-1zM317 176h1v5h-1zM317 215h1v1h-1zM319 216h1v4h-1zM320 127h1v1h-1zM320 215h1v1h-1zM321 127h1v1h-1zM321 215h1v1h-1zM323 215h1v1h-1zM324 127h1v1h-1zM324 196h1v4h-1zM324 215h1v1h-1zM325 127h1v1h-1zM326 206h1v4h-1zM327 127h1v1h-1zM327 186h1v5h-1zM327 215h1v1h-1zM328 122h1v1h-1zM328 191h1v4h-1zM328 201h1v4h-1zM328 216h1v4h-1zM329 127h1v1h-1zM329 142h1v4h-1zM329 167h1v4h-1zM329 186h1v5h-1zM330 123h1v4h-1zM330 146h1v1h-1zM330 186h1v9h-1zM331 123h1v4h-1zM331 146h1v1h-1zM331 195h1v1h-1zM332 186h1v9h-1zM333 127h1v1h-1zM334 122h1v1h-1zM335 196h1v4h-1zM335 215h1v1h-1zM337 123h1v4h-1zM338 215h1v1h-1z"/>
<path fill="#39261a" d="M152 54h1v5h-1zM152 137h1v5h-1zM152 166h1v1h-1zM152 171h1v1h-1zM153 146h1v1h-1zM153 162h1v4h-1zM153 172h1v9h-1zM153 216h1v4h-1zM154 157h1v4h-1zM154 220h1v5h-1zM154 230h1v4h-1zM155 166h1v1h-1zM155 220h1v1h-1zM156 166h1v1h-1zM156 176h1v1h-1zM157 54h1v5h-1zM157 142h1v5h-1zM157 151h1v1h-1zM157 162h1v9h-1zM157 229h1v1h-1zM158 127h1v1h-1zM158 176h1v5h-1zM159 220h1v1h-1zM159 225h1v5h-1zM160 161h1v1h-1zM160 195h1v1h-1zM160 220h1v5h-1zM161 151h1v1h-1zM161 161h1v1h-1zM161 195h1v1h-1zM162 161h1v1h-1zM163 147h1v5h-1zM163 161h1v1h-1zM164 147h1v5h-1zM164 172h1v4h-1zM165 142h1v5h-1zM165 176h1v5h-1zM166 157h1v19h-1zM166 216h1v4h-1zM167 161h1v1h-1zM168 142h1v5h-1zM169 147h1v4h-1zM170 172h1v4h-1zM171 127h1v1h-1zM171 172h1v4h-1zM172 151h1v1h-1zM172 166h1v1h-1zM172 234h1v1h-1zM173 151h1v1h-1zM173 190h1v1h-1zM174 127h1v1h-1zM174 151h1v1h-1zM174 167h1v5h-1zM175 151h1v1h-1zM175 157h1v5h-1zM175 167h1v4h-1zM175 177h1v4h-1zM175 191h1v4h-1zM176 123h1v4h-1zM176 177h1v4h-1zM177 123h1v9h-1zM177 151h1v1h-1zM177 166h1v1h-1zM178 186h1v4h-1zM179 127h1v1h-1zM179 142h1v4h-1zM179 191h1v4h-1zM179 230h1v4h-1zM180 127h1v1h-1zM181 123h1v4h-1zM181 147h1v5h-1zM182 171h1v1h-1zM182 176h1v1h-1zM183 128h1v4h-1zM183 216h1v4h-1zM184 54h1v1h-1zM184 151h1v1h-1zM184 171h1v5h-1zM185 123h1v5h-1zM185 166h1v1h-1zM186 141h1v1h-1zM186 151h1v1h-1zM186 161h1v1h-1zM186 171h1v1h-1zM186 176h1v1h-1zM187 166h1v1h-1zM188 166h1v1h-1zM188 171h1v1h-1zM189 167h1v5h-1zM190 166h1v1h-1zM190 172h1v4h-1zM190 190h1v1h-1zM191 142h1v4h-1zM191 157h1v4h-1zM191 196h1v4h-1zM191 205h1v1h-1zM192 142h1v5h-1zM192 161h1v1h-1zM192 171h1v1h-1zM192 186h1v4h-1zM192 196h1v4h-1zM192 220h1v1h-1zM193 161h1v1h-1zM194 167h1v14h-1zM195 127h1v1h-1zM195 157h1v4h-1zM196 146h1v5h-1zM196 166h1v1h-1zM196 196h1v4h-1zM197 166h1v11h-1zM197 216h1v4h-1zM198 127h1v1h-1zM198 162h1v14h-1zM199 157h1v5h-1zM199 177h1v4h-1zM200 54h1v5h-1zM200 123h1v5h-1zM200 171h1v5h-1zM200 196h1v4h-1zM200 216h1v4h-1zM201 151h1v1h-1zM201 171h1v1h-1zM201 186h1v5h-1zM202 127h1v1h-1zM203 127h1v1h-1zM203 142h1v5h-1zM203 176h1v1h-1zM203 216h1v4h-1zM204 176h1v5h-1zM207 162h1v4h-1zM207 172h1v9h-1zM207 195h1v1h-1zM208 127h1v1h-1zM208 162h1v4h-1zM208 200h1v1h-1zM208 220h1v1h-1zM208 239h1v1h-1zM209 240h1v4h-1zM209 249h1v5h-1zM210 133h1v4h-1zM210 157h1v4h-1zM210 221h1v9h-1zM210 254h1v4h-1zM211 186h1v9h-1zM212 123h1v5h-1zM212 142h1v5h-1zM212 157h1v5h-1zM212 166h1v1h-1zM212 177h1v4h-1zM213 151h1v1h-1zM213 216h1v4h-1zM214 141h1v1h-1zM214 151h1v1h-1zM215 141h1v1h-1zM216 167h1v4h-1zM217 167h1v4h-1zM218 161h1v1h-1zM219 147h1v19h-1zM219 172h1v5h-1zM219 216h1v4h-1zM220 196h1v4h-1zM221 127h1v1h-1zM221 191h1v4h-1zM221 229h1v1h-1zM221 258h1v1h-1zM222 127h1v1h-1zM222 216h1v4h-1zM222 258h1v1h-1zM223 161h1v1h-1zM223 167h1v4h-1zM224 141h1v1h-1zM224 151h1v1h-1zM224 216h1v4h-1zM225 127h1v1h-1zM225 161h1v1h-1zM225 172h1v4h-1zM226 157h1v9h-1zM229 216h1v4h-1zM230 171h1v1h-1zM230 220h1v1h-1zM231 146h1v1h-1zM232 161h1v1h-1zM233 157h1v5h-1zM233 166h1v1h-1zM233 216h1v4h-1zM234 123h1v4h-1zM234 142h1v5h-1zM234 151h1v1h-1zM234 162h1v4h-1zM234 216h1v4h-1zM235 127h1v1h-1zM235 220h1v5h-1zM236 123h1v5h-1zM236 151h1v1h-1zM237 147h1v5h-1zM238 161h1v1h-1zM238 176h1v1h-1zM238 220h1v1h-1zM239 142h1v4h-1zM239 216h1v4h-1zM240 146h1v1h-1zM240 191h1v9h-1zM241 146h1v1h-1zM241 152h1v4h-1zM242 167h1v4h-1zM242 177h1v4h-1zM243 147h1v5h-1zM244 167h1v4h-1zM244 177h1v4h-1zM245 186h1v5h-1zM245 216h1v4h-1zM246 162h1v4h-1zM247 166h1v1h-1zM247 172h1v4h-1zM248 152h1v5h-1zM249 127h1v1h-1zM249 151h1v1h-1zM249 157h1v4h-1zM251 162h1v10h-1zM251 195h1v1h-1zM251 230h1v4h-1zM252 127h1v1h-1zM252 147h1v4h-1zM252 161h1v1h-1zM253 127h1v1h-1zM253 216h1v4h-1zM254 127h1v1h-1zM255 151h1v1h-1zM255 161h1v1h-1zM256 151h1v1h-1zM256 157h1v4h-1zM256 167h1v4h-1zM257 151h1v1h-1zM257 161h1v1h-1zM258 167h1v9h-1zM259 146h1v1h-1zM259 220h1v1h-1zM261 127h1v1h-1zM261 146h1v1h-1zM262 146h1v6h-1zM262 176h1v5h-1zM263 162h1v4h-1zM263 191h1v9h-1zM263 216h1v4h-1zM264 142h1v5h-1zM264 157h1v9h-1zM264 190h1v1h-1zM265 172h1v4h-1zM265 186h1v14h-1zM266 127h1v1h-1zM266 166h1v1h-1zM266 171h1v1h-1zM266 191h1v9h-1zM267 216h1v4h-1zM267 225h1v9h-1zM268 127h1v1h-1zM268 151h1v1h-1zM268 167h1v14h-1zM269 142h1v5h-1zM269 161h1v1h-1zM269 216h1v4h-1zM270 162h1v14h-1zM270 191h1v5h-1zM271 127h1v1h-1zM271 142h1v4h-1zM271 176h1v1h-1zM271 195h1v1h-1zM273 133h1v4h-1zM273 157h1v9h-1zM273 177h1v4h-1zM275 123h1v4h-1zM275 161h1v1h-1zM276 128h1v4h-1zM276 151h1v1h-1zM276 167h1v4h-1zM276 177h1v4h-1zM276 216h1v4h-1zM277 167h1v4h-1zM277 216h1v4h-1zM278 127h1v1h-1zM278 171h1v1h-1zM278 176h1v5h-1zM279 147h1v4h-1zM279 162h1v9h-1zM279 176h1v5h-1zM279 186h1v5h-1zM279 196h1v4h-1zM279 221h1v4h-1zM280 141h1v1h-1zM281 128h1v18h-1zM282 171h1v1h-1zM282 177h1v4h-1zM283 123h1v5h-1zM283 146h1v1h-1zM283 172h1v9h-1zM283 216h1v4h-1zM285 127h1v1h-1zM285 162h1v4h-1zM285 190h1v5h-1zM285 200h1v1h-1zM286 142h1v9h-1zM286 191h1v9h-1zM286 216h1v4h-1zM287 162h1v9h-1zM287 176h1v1h-1zM288 54h1v1h-1zM288 147h1v5h-1zM288 161h1v1h-1zM288 225h1v5h-1zM289 54h1v1h-1zM289 162h1v5h-1zM289 171h1v1h-1zM291 123h1v5h-1zM291 156h1v1h-1zM291 162h1v9h-1zM291 176h1v5h-1zM292 127h1v1h-1zM292 176h1v1h-1zM293 123h1v4h-1zM293 166h1v1h-1zM293 171h1v1h-1zM294 54h1v5h-1zM294 127h1v1h-1zM294 162h1v5h-1zM294 171h1v5h-1zM294 216h1v4h-1zM296 142h1v4h-1zM296 216h1v4h-1zM297 161h1v1h-1zM297 177h1v4h-1zM298 162h1v4h-1zM298 171h1v1h-1zM299 127h1v1h-1zM300 146h1v6h-1zM300 156h1v1h-1zM301 127h1v1h-1zM301 142h1v5h-1zM301 216h1v4h-1zM302 142h1v5h-1zM302 171h1v1h-1zM303 177h1v4h-1zM304 55h1v4h-1zM304 127h1v1h-1zM304 162h1v4h-1zM304 176h1v5h-1zM304 186h1v4h-1zM304 216h1v4h-1zM305 127h1v5h-1zM305 147h1v5h-1zM305 167h1v5h-1zM305 176h1v5h-1zM306 161h1v1h-1zM307 166h1v1h-1zM308 127h1v1h-1zM309 123h1v4h-1zM309 162h1v4h-1zM309 172h1v9h-1zM310 151h1v1h-1zM310 176h1v1h-1zM311 127h1v1h-1zM313 162h1v9h-1zM313 177h1v4h-1zM313 191h1v4h-1zM314 172h1v9h-1zM315 171h1v1h-1zM315 190h1v1h-1zM316 137h1v1h-1zM316 142h1v5h-1zM316 151h1v1h-1zM316 161h1v1h-1zM316 171h1v1h-1zM316 216h1v4h-1zM316 229h1v1h-1zM317 161h1v1h-1zM318 151h1v1h-1zM319 123h1v4h-1zM319 147h1v4h-1zM320 142h1v4h-1zM320 216h1v4h-1zM321 216h1v4h-1zM322 127h1v1h-1zM322 157h1v5h-1zM322 216h1v4h-1zM323 127h1v1h-1zM323 146h1v1h-1zM324 142h1v10h-1zM324 171h1v1h-1zM324 216h1v4h-1zM325 152h1v4h-1zM325 206h1v4h-1zM326 127h1v1h-1zM326 157h1v4h-1zM326 171h1v1h-1zM326 216h1v4h-1zM327 151h1v1h-1zM327 166h1v1h-1zM327 216h1v4h-1zM328 147h1v4h-1zM328 161h1v1h-1zM328 196h1v4h-1zM329 147h1v4h-1zM330 147h1v4h-1zM331 141h1v1h-1zM331 162h1v4h-1zM331 171h1v1h-1zM332 127h1v1h-1zM332 142h1v5h-1zM334 151h1v1h-1zM334 166h1v1h-1zM335 151h1v1h-1zM335 166h1v1h-1zM336 172h1v4h-1zM337 147h1v5h-1zM338 127h1v1h-1zM338 133h1v4h-1zM338 162h1v4h-1zM338 176h1v5h-1zM338 216h1v4h-1zM338 239h1v1h-1z"/>
<path fill="#9a5820" d="M152 59h1v10h-1zM152 74h1v5h-1zM153 69h1v5h-1zM153 79h1v4h-1zM154 83h1v1h-1zM156 73h1v1h-1zM156 78h1v1h-1zM156 83h1v1h-1zM157 69h1v5h-1zM157 79h1v5h-1zM158 64h1v5h-1zM159 59h1v5h-1zM169 68h1v1h-1zM170 59h1v10h-1zM171 59h1v10h-1zM177 73h1v1h-1zM178 59h1v15h-1zM182 63h1v6h-1zM182 73h1v30h-1zM198 59h1v4h-1zM199 64h1v20h-1zM200 83h1v1h-1zM201 68h1v1h-1zM201 78h1v1h-1zM202 59h1v10h-1zM202 74h1v5h-1zM204 93h1v1h-1zM209 59h1v5h-1zM211 55h1v4h-1zM216 55h1v4h-1zM219 78h1v1h-1zM219 83h1v1h-1zM222 68h1v1h-1zM223 68h1v1h-1zM230 69h1v9h-1zM234 59h1v20h-1zM235 78h1v1h-1zM237 59h1v5h-1zM238 63h1v1h-1zM242 55h1v4h-1zM244 55h1v4h-1zM255 59h1v15h-1zM256 73h1v1h-1zM258 88h1v1h-1zM259 59h1v10h-1zM261 59h1v5h-1zM263 68h1v1h-1zM264 59h1v10h-1zM266 59h1v5h-1zM273 63h1v1h-1zM275 69h1v5h-1zM276 73h1v1h-1zM279 98h1v1h-1zM287 59h1v5h-1zM290 59h1v10h-1zM291 68h1v1h-1zM294 59h1v19h-1zM297 98h1v1h-1zM298 64h1v34h-1zM304 83h1v1h-1zM306 83h1v1h-1zM308 59h1v5h-1zM312 55h1v4h-1zM315 55h1v4h-1zM320 59h1v5h-1zM326 83h1v1h-1zM330 59h1v10h-1zM333 55h1v9h-1zM334 64h1v10h-1zM334 79h1v5h-1zM335 73h1v1h-1zM335 78h1v1h-1zM335 83h1v1h-1zM338 68h1v1h-1z"/>
<path fill="#b66b2e" d="M152 117h1v1h-1zM163 117h1v1h-1zM164 113h1v4h-1zM167 117h1v1h-1zM171 55h1v4h-1zM186 113h1v5h-1zM194 113h1v5h-1zM208 117h1v1h-1zM209 117h1v1h-1zM221 117h1v1h-1zM224 113h1v5h-1zM225 117h1v1h-1zM226 117h1v1h-1zM231 117h1v1h-1zM232 113h1v4h-1zM242 117h1v1h-1zM243 113h1v4h-1zM258 117h1v1h-1zM262 117h1v1h-1zM280 113h1v4h-1zM287 113h1v4h-1zM290 117h1v1h-1zM292 113h1v4h-1zM293 113h1v4h-1zM299 113h1v4h-1zM304 117h1v1h-1zM305 117h1v1h-1zM309 113h1v5h-1zM310 117h1v1h-1z"/>
<path fill="#42260e" d="M153 6h1v4h-1zM160 55h1v8h-1zM161 54h1v1h-1zM162 55h1v4h-1zM163 55h1v4h-1zM165 55h1v4h-1zM172 35h1v4h-1zM172 55h1v14h-1zM173 55h1v4h-1zM174 54h1v1h-1zM175 55h1v4h-1zM176 55h1v4h-1zM179 54h1v5h-1zM181 54h1v1h-1zM184 39h1v1h-1zM185 54h1v5h-1zM187 54h1v1h-1zM193 54h1v1h-1zM194 45h1v4h-1zM204 30h1v4h-1zM205 16h1v4h-1zM206 1h1v4h-1zM208 172h1v4h-1zM210 177h1v4h-1zM213 54h1v1h-1zM221 21h1v4h-1zM222 55h1v4h-1zM227 54h1v1h-1zM229 54h1v1h-1zM238 54h1v1h-1zM239 30h1v4h-1zM239 54h1v1h-1zM241 54h1v5h-1zM243 55h1v4h-1zM243 172h1v4h-1zM244 172h1v4h-1zM245 35h1v4h-1zM245 54h1v5h-1zM248 55h1v4h-1zM249 54h1v1h-1zM251 35h1v4h-1zM254 55h1v4h-1zM255 54h1v1h-1zM256 59h1v9h-1zM258 59h1v10h-1zM263 55h1v4h-1zM265 54h1v1h-1zM266 11h1v4h-1zM267 16h1v4h-1zM267 54h1v1h-1zM267 177h1v4h-1zM270 54h1v5h-1zM273 54h1v1h-1zM274 59h1v5h-1zM280 6h1v4h-1zM280 39h1v1h-1zM282 54h1v1h-1zM283 1h1v4h-1zM284 31h1v3h-1zM297 63h1v1h-1zM303 68h1v1h-1zM304 68h1v1h-1zM308 1h1v4h-1zM312 176h1v1h-1zM313 54h1v1h-1zM316 35h1v4h-1zM317 55h1v4h-1zM322 59h1v5h-1zM322 172h1v4h-1zM325 1h1v4h-1zM325 35h1v4h-1zM326 55h1v4h-1zM328 39h1v1h-1zM328 54h1v1h-1zM330 35h1v9h-1z"/>
<path fill="#2c1909" d="M153 10h1v1h-1zM153 54h1v1h-1zM160 54h1v1h-1zM162 54h1v1h-1zM163 54h1v1h-1zM165 54h1v1h-1zM168 35h1v4h-1zM172 39h1v1h-1zM172 54h1v1h-1zM173 54h1v1h-1zM175 54h1v1h-1zM176 54h1v1h-1zM180 50h1v4h-1zM182 54h1v5h-1zM185 1h1v4h-1zM185 35h1v4h-1zM188 54h1v5h-1zM191 54h1v5h-1zM194 54h1v5h-1zM197 50h1v4h-1zM199 30h1v5h-1zM199 59h1v5h-1zM203 40h1v4h-1zM204 34h1v1h-1zM206 5h1v1h-1zM208 35h1v5h-1zM210 172h1v5h-1zM213 172h1v4h-1zM221 20h1v1h-1zM222 54h1v1h-1zM223 172h1v4h-1zM226 35h1v4h-1zM226 55h1v4h-1zM226 172h1v9h-1zM227 35h1v4h-1zM232 55h1v4h-1zM233 35h1v4h-1zM234 54h1v5h-1zM235 172h1v4h-1zM237 172h1v4h-1zM239 34h1v1h-1zM243 54h1v1h-1zM245 39h1v1h-1zM246 25h1v5h-1zM248 54h1v1h-1zM250 54h1v5h-1zM251 39h1v1h-1zM254 35h1v4h-1zM254 54h1v1h-1zM256 54h1v5h-1zM257 40h1v4h-1zM262 63h1v1h-1zM263 54h1v1h-1zM266 15h1v1h-1zM267 176h1v1h-1zM268 35h1v4h-1zM272 55h1v4h-1zM274 25h1v5h-1zM276 55h1v4h-1zM277 54h1v5h-1zM279 35h1v5h-1zM279 59h1v5h-1zM280 10h1v1h-1zM283 5h1v1h-1zM284 30h1v1h-1zM284 34h1v1h-1zM284 55h1v4h-1zM287 54h1v5h-1zM290 54h1v5h-1zM293 59h1v5h-1zM297 1h1v5h-1zM297 59h1v4h-1zM298 35h1v4h-1zM301 55h1v4h-1zM303 59h1v9h-1zM304 59h1v9h-1zM308 5h1v1h-1zM309 54h1v5h-1zM310 1h1v5h-1zM310 55h1v4h-1zM310 172h1v4h-1zM311 176h1v5h-1zM314 55h1v4h-1zM316 39h1v1h-1zM317 54h1v1h-1zM320 50h1v4h-1zM321 176h1v5h-1zM324 35h1v4h-1zM325 5h1v1h-1zM325 39h1v1h-1zM326 54h1v1h-1zM330 54h1v5h-1zM334 59h1v5h-1zM338 54h1v5h-1z"/>
<path fill="#482c16" d="M153 55h1v4h-1zM156 54h1v1h-1zM205 54h1v5h-1zM250 172h1v4h-1zM280 176h1v1h-1zM286 177h1v4h-1zM292 54h1v5h-1zM295 55h1v4h-1zM326 176h1v1h-1zM332 54h1v1h-1zM333 177h1v4h-1z"/>
<path fill="#6e3f17" d="M153 59h1v9h-1zM153 74h1v4h-1zM157 59h1v9h-1zM159 55h1v4h-1zM172 69h1v9h-1zM176 59h1v9h-1zM177 55h1v4h-1zM180 55h1v4h-1zM181 59h1v4h-1zM181 69h1v4h-1zM188 63h1v1h-1zM190 54h1v1h-1zM191 59h1v5h-1zM192 55h1v9h-1zM202 54h1v1h-1zM203 55h1v4h-1zM204 64h1v29h-1zM206 59h1v9h-1zM207 55h1v4h-1zM210 55h1v4h-1zM211 54h1v1h-1zM214 55h1v4h-1zM215 54h1v1h-1zM217 54h1v1h-1zM219 55h1v18h-1zM219 79h1v4h-1zM223 55h1v4h-1zM224 59h1v24h-1zM225 55h1v4h-1zM226 59h1v19h-1zM231 63h1v1h-1zM242 54h1v1h-1zM244 54h1v1h-1zM258 69h1v19h-1zM263 59h1v5h-1zM266 54h1v1h-1zM272 59h1v19h-1zM274 64h1v4h-1zM279 64h1v34h-1zM280 55h1v9h-1zM298 59h1v5h-1zM299 55h1v4h-1zM304 69h1v14h-1zM306 59h1v24h-1zM307 59h1v24h-1zM311 54h1v1h-1zM314 59h1v4h-1zM320 55h1v4h-1zM321 59h1v4h-1zM326 59h1v24h-1zM327 54h1v1h-1zM328 35h1v4h-1zM338 63h1v1h-1zM338 69h1v4h-1z"/>
<path fill="#c4783f" d="M153 113h1v5h-1zM159 113h1v4h-1zM162 113h1v5h-1zM169 113h1v5h-1zM181 117h1v1h-1zM182 117h1v1h-1zM187 113h1v5h-1zM191 64h1v49h-1zM192 117h1v1h-1zM195 117h1v1h-1zM198 55h1v4h-1zM207 113h1v5h-1zM218 113h1v4h-1zM220 113h1v4h-1zM222 113h1v5h-1zM223 113h1v5h-1zM228 113h1v5h-1zM233 113h1v5h-1zM235 117h1v1h-1zM236 117h1v1h-1zM257 113h1v4h-1zM268 113h1v5h-1zM271 113h1v5h-1zM273 113h1v4h-1zM274 117h1v1h-1zM278 113h1v5h-1zM288 113h1v4h-1zM289 113h1v5h-1zM298 113h1v4h-1zM302 113h1v5h-1zM303 113h1v5h-1zM306 117h1v1h-1zM307 113h1v4h-1zM311 117h1v1h-1zM312 113h1v4h-1zM313 113h1v4h-1zM314 117h1v1h-1zM315 113h1v4h-1zM320 117h1v1h-1zM336 113h1v5h-1z"/>
<path fill="#160d05" d="M154 54h1v5h-1zM164 54h1v5h-1zM164 177h1v4h-1zM168 39h1v1h-1zM169 35h1v5h-1zM179 49h1v5h-1zM180 49h1v1h-1zM183 54h1v5h-1zM184 1h1v5h-1zM184 34h1v1h-1zM185 5h1v1h-1zM185 39h1v1h-1zM189 55h1v4h-1zM194 44h1v1h-1zM194 49h1v1h-1zM195 54h1v5h-1zM197 49h1v1h-1zM198 49h1v5h-1zM199 54h1v5h-1zM200 30h1v4h-1zM202 40h1v5h-1zM203 39h1v1h-1zM203 44h1v1h-1zM204 16h1v4h-1zM205 15h1v1h-1zM205 20h1v1h-1zM208 54h1v5h-1zM208 171h1v1h-1zM208 176h1v1h-1zM209 35h1v4h-1zM210 171h1v1h-1zM211 171h1v5h-1zM212 54h1v5h-1zM212 172h1v4h-1zM213 176h1v1h-1zM221 25h1v1h-1zM224 54h1v5h-1zM225 35h1v5h-1zM226 39h1v1h-1zM226 54h1v1h-1zM226 171h1v1h-1zM227 39h1v1h-1zM227 172h1v5h-1zM228 35h1v5h-1zM230 54h1v5h-1zM231 54h1v5h-1zM232 54h1v1h-1zM233 39h1v1h-1zM234 35h1v5h-1zM234 172h1v4h-1zM235 171h1v1h-1zM236 172h1v4h-1zM237 171h1v1h-1zM242 172h1v4h-1zM243 171h1v1h-1zM243 176h1v1h-1zM245 26h1v4h-1zM250 34h1v1h-1zM254 39h1v1h-1zM255 35h1v5h-1zM257 44h1v1h-1zM257 54h1v5h-1zM258 40h1v5h-1zM258 54h1v5h-1zM262 59h1v4h-1zM266 10h1v1h-1zM267 15h1v1h-1zM267 20h1v1h-1zM268 39h1v1h-1zM268 54h1v5h-1zM269 35h1v5h-1zM272 54h1v1h-1zM273 25h1v5h-1zM276 54h1v1h-1zM280 34h1v1h-1zM284 54h1v1h-1zM285 31h1v3h-1zM286 55h1v4h-1zM293 176h1v5h-1zM298 1h1v5h-1zM298 39h1v1h-1zM298 55h1v4h-1zM299 35h1v5h-1zM300 55h1v4h-1zM301 54h1v1h-1zM302 54h1v5h-1zM309 1h1v5h-1zM310 54h1v1h-1zM310 171h1v1h-1zM311 171h1v5h-1zM314 54h1v1h-1zM320 49h1v1h-1zM321 50h1v9h-1zM321 172h1v4h-1zM322 171h1v1h-1zM322 176h1v1h-1zM323 35h1v5h-1zM324 39h1v1h-1zM327 35h1v4h-1zM328 34h1v1h-1zM328 171h1v5h-1zM330 44h1v1h-1zM332 177h1v4h-1zM334 54h1v5h-1zM337 54h1v5h-1z"/>
<path fill="#c8845d" d="M154 123h1v4h-1zM154 215h1v1h-1zM155 181h1v1h-1zM156 186h1v5h-1zM156 201h1v4h-1zM157 205h1v1h-1zM157 215h1v1h-1zM159 196h1v4h-1zM159 215h1v1h-1zM160 181h1v1h-1zM162 123h1v4h-1zM162 166h1v1h-1zM162 176h1v1h-1zM162 191h1v4h-1zM163 122h1v1h-1zM164 167h1v4h-1zM165 123h1v4h-1zM166 200h1v1h-1zM168 123h1v4h-1zM169 122h1v1h-1zM169 186h1v5h-1zM172 195h1v1h-1zM173 200h1v1h-1zM173 205h1v1h-1zM174 142h1v4h-1zM174 195h1v1h-1zM175 122h1v1h-1zM176 190h1v1h-1zM176 215h1v1h-1zM177 200h1v1h-1zM178 195h1v6h-1zM179 200h1v1h-1zM180 182h1v4h-1zM180 200h1v1h-1zM180 215h1v1h-1zM181 196h1v5h-1zM182 142h1v4h-1zM182 195h1v1h-1zM182 200h1v1h-1zM183 167h1v14h-1zM184 182h1v4h-1zM184 201h1v5h-1zM185 205h1v1h-1zM185 215h1v5h-1zM186 146h1v1h-1zM187 122h1v5h-1zM187 190h1v1h-1zM189 200h1v1h-1zM190 122h1v5h-1zM191 122h1v1h-1zM191 172h1v4h-1zM192 182h1v4h-1zM192 210h1v1h-1zM193 122h1v1h-1zM193 181h1v1h-1zM193 195h1v1h-1zM194 196h1v4h-1zM194 205h1v1h-1zM196 186h1v4h-1zM197 191h1v9h-1zM198 177h1v5h-1zM198 195h1v1h-1zM200 205h1v1h-1zM201 182h1v4h-1zM206 181h1v1h-1zM206 191h1v5h-1zM207 122h1v1h-1zM209 122h1v1h-1zM209 210h1v1h-1zM210 195h1v1h-1zM210 215h1v1h-1zM211 200h1v1h-1zM211 215h1v1h-1zM212 191h1v9h-1zM214 146h1v1h-1zM215 123h1v4h-1zM215 146h1v1h-1zM215 191h1v5h-1zM216 122h1v1h-1zM216 190h1v1h-1zM217 186h1v9h-1zM218 195h1v1h-1zM218 200h1v1h-1zM219 122h1v1h-1zM219 200h1v1h-1zM221 142h1v4h-1zM221 177h1v4h-1zM221 196h1v4h-1zM221 211h1v4h-1zM224 122h1v5h-1zM224 146h1v1h-1zM224 186h1v5h-1zM226 122h1v1h-1zM227 142h1v4h-1zM230 147h1v4h-1zM231 122h1v5h-1zM233 123h1v4h-1zM233 200h1v1h-1zM235 215h1v1h-1zM236 186h1v14h-1zM238 200h1v1h-1zM239 123h1v4h-1zM239 182h1v4h-1zM239 211h1v4h-1zM240 210h1v1h-1zM241 191h1v9h-1zM242 142h1v4h-1zM245 195h1v1h-1zM246 181h1v1h-1zM247 182h1v13h-1zM248 200h1v1h-1zM249 186h1v10h-1zM249 200h1v6h-1zM250 196h1v5h-1zM250 205h1v1h-1zM252 196h1v5h-1zM255 182h1v4h-1zM255 190h1v16h-1zM257 122h1v1h-1zM257 190h1v1h-1zM257 200h1v6h-1zM258 122h1v1h-1zM260 122h1v1h-1zM260 216h1v4h-1zM261 215h1v1h-1zM262 186h1v14h-1zM263 181h1v1h-1zM264 122h1v5h-1zM264 177h1v5h-1zM267 142h1v5h-1zM268 196h1v4h-1zM269 200h1v1h-1zM271 196h1v4h-1zM272 122h1v1h-1zM272 181h1v1h-1zM273 122h1v1h-1zM274 167h1v5h-1zM274 181h1v1h-1zM274 191h1v4h-1zM275 162h1v5h-1zM275 171h1v6h-1zM280 122h1v1h-1zM280 142h1v4h-1zM280 205h1v1h-1zM281 201h1v5h-1zM283 190h1v1h-1zM283 195h1v1h-1zM283 200h1v1h-1zM284 181h1v1h-1zM285 167h1v4h-1zM286 201h1v4h-1zM287 205h1v1h-1zM288 172h1v4h-1zM288 210h1v1h-1zM289 122h1v5h-1zM289 181h1v1h-1zM289 195h1v1h-1zM289 216h1v4h-1zM290 190h1v1h-1zM291 195h1v1h-1zM295 200h1v1h-1zM295 210h1v1h-1zM296 181h1v1h-1zM296 195h1v1h-1zM298 200h1v1h-1zM299 142h1v4h-1zM299 167h1v4h-1zM302 186h1v5h-1zM302 196h1v5h-1zM303 195h1v1h-1zM303 200h1v1h-1zM305 195h1v1h-1zM305 205h1v1h-1zM306 181h1v1h-1zM306 186h1v5h-1zM306 196h1v9h-1zM308 181h1v1h-1zM308 191h1v5h-1zM309 142h1v4h-1zM309 200h1v1h-1zM310 215h1v1h-1zM312 196h1v4h-1zM312 205h1v1h-1zM314 186h1v5h-1zM314 215h1v1h-1zM315 122h1v5h-1zM315 215h1v1h-1zM316 186h1v5h-1zM317 181h1v1h-1zM319 200h1v1h-1zM319 205h1v1h-1zM319 215h1v1h-1zM321 123h1v4h-1zM324 123h1v4h-1zM324 186h1v10h-1zM324 200h1v1h-1zM324 206h1v4h-1zM326 205h1v1h-1zM326 210h1v1h-1zM327 123h1v4h-1zM327 191h1v4h-1zM327 201h1v4h-1zM328 205h1v1h-1zM328 215h1v1h-1zM330 122h1v1h-1zM330 142h1v4h-1zM330 195h1v1h-1zM331 122h1v1h-1zM332 195h1v1h-1zM333 122h1v5h-1zM333 190h1v1h-1zM334 190h1v1h-1zM335 122h1v5h-1zM335 200h1v1h-1zM336 186h1v14h-1zM337 122h1v1h-1z"/>
<path fill="#5e391b" d="M156 55h1v4h-1zM206 54h1v1h-1zM221 54h1v1h-1zM246 54h1v1h-1zM280 177h1v4h-1zM324 54h1v1h-1zM331 54h1v1h-1z"/>
<path fill="#bd7236" d="M157 113h1v5h-1zM164 117h1v1h-1zM170 113h1v5h-1zM172 113h1v5h-1zM181 113h1v4h-1zM182 113h1v4h-1zM184 113h1v5h-1zM185 113h1v5h-1zM192 113h1v4h-1zM195 113h1v4h-1zM197 55h1v4h-1zM206 113h1v5h-1zM210 113h1v5h-1zM214 113h1v5h-1zM232 117h1v1h-1zM235 113h1v4h-1zM236 113h1v4h-1zM240 113h1v5h-1zM243 117h1v1h-1zM247 55h1v4h-1zM248 113h1v5h-1zM255 113h1v5h-1zM266 113h1v5h-1zM274 113h1v4h-1zM276 113h1v5h-1zM280 117h1v1h-1zM286 113h1v5h-1zM287 117h1v1h-1zM292 117h1v1h-1zM293 117h1v1h-1zM299 117h1v1h-1zM306 113h1v4h-1zM311 113h1v4h-1zM314 113h1v4h-1zM320 113h1v4h-1z"/>
<path fill="#583212" d="M158 59h1v5h-1zM159 54h1v1h-1zM160 63h1v1h-1zM161 55h1v4h-1zM167 54h1v5h-1zM174 55h1v4h-1zM177 54h1v1h-1zM180 54h1v1h-1zM181 55h1v4h-1zM184 35h1v4h-1zM187 55h1v4h-1zM188 59h1v4h-1zM192 54h1v1h-1zM193 55h1v4h-1zM203 54h1v1h-1zM204 59h1v5h-1zM207 54h1v1h-1zM210 54h1v1h-1zM213 55h1v4h-1zM214 54h1v1h-1zM218 54h1v5h-1zM219 54h1v1h-1zM223 54h1v1h-1zM225 54h1v1h-1zM227 55h1v4h-1zM229 55h1v4h-1zM231 59h1v4h-1zM238 55h1v4h-1zM239 55h1v4h-1zM249 55h1v4h-1zM250 39h1v1h-1zM255 55h1v4h-1zM256 68h1v1h-1zM259 54h1v5h-1zM261 54h1v5h-1zM265 55h1v4h-1zM267 55h1v4h-1zM273 55h1v4h-1zM280 35h1v4h-1zM280 54h1v1h-1zM282 55h1v4h-1zM285 54h1v5h-1zM299 54h1v1h-1zM312 177h1v4h-1zM313 55h1v4h-1zM320 54h1v1h-1zM328 55h1v4h-1zM337 59h1v5h-1zM338 59h1v4h-1z"/>
<path fill="#ca7e48" d="M158 113h1v5h-1zM159 117h1v1h-1zM161 113h1v4h-1zM183 113h1v5h-1zM200 113h1v5h-1zM202 113h1v4h-1zM204 113h1v5h-1zM205 113h1v5h-1zM216 113h1v5h-1zM217 113h1v5h-1zM218 117h1v1h-1zM220 117h1v1h-1zM227 113h1v5h-1zM241 113h1v4h-1zM247 113h1v4h-1zM252 113h1v4h-1zM257 117h1v1h-1zM259 113h1v5h-1zM261 113h1v4h-1zM273 117h1v1h-1zM288 117h1v1h-1zM298 117h1v1h-1zM301 113h1v5h-1zM307 117h1v1h-1zM312 117h1v1h-1zM313 117h1v1h-1zM315 117h1v1h-1zM318 113h1v4h-1zM326 113h1v5h-1zM329 113h1v4h-1zM330 113h1v4h-1zM337 113h1v5h-1z"/>
<path fill="#6c452c" d="M163 176h1v1h-1zM233 55h1v4h-1zM280 181h1v1h-1zM283 55h1v4h-1zM289 55h1v4h-1zM296 55h1v4h-1zM320 177h1v4h-1zM323 171h1v1h-1zM327 176h1v5h-1z"/>
<path fill="#825231" d="M163 177h1v4h-1zM329 172h1v4h-1z"/>
<path fill="#c17e54" d="M163 181h1v1h-1zM285 176h1v1h-1zM294 181h1v1h-1zM307 181h1v1h-1z"/>
<path fill="#322012" d="M164 176h1v1h-1zM201 55h1v4h-1zM211 176h1v1h-1zM223 171h1v1h-1zM224 172h1v4h-1zM227 177h1v4h-1zM244 171h1v1h-1zM244 176h1v1h-1zM250 171h1v1h-1zM250 176h1v1h-1zM286 176h1v1h-1zM295 54h1v1h-1zM323 176h1v1h-1zM332 176h1v1h-1zM333 176h1v1h-1z"/>
<path fill="#88583a" d="M164 181h1v1h-1zM210 181h1v1h-1zM226 181h1v1h-1zM267 181h1v1h-1zM284 176h1v1h-1zM286 181h1v1h-1zM293 181h1v1h-1zM294 176h1v1h-1zM311 181h1v1h-1zM321 181h1v1h-1zM329 171h1v1h-1zM333 181h1v1h-1z"/>
<path fill="#de9161" d="M165 113h1v5h-1zM175 113h1v5h-1zM189 113h1v5h-1zM199 113h1v5h-1zM234 117h1v1h-1zM238 113h1v4h-1zM253 113h1v5h-1zM260 113h1v5h-1zM272 117h1v1h-1zM281 113h1v5h-1zM285 177h1v4h-1zM300 113h1v5h-1zM308 117h1v1h-1zM328 113h1v5h-1zM332 113h1v4h-1zM335 113h1v5h-1z"/>
<path fill="#4f321f" d="M170 54h1v5h-1zM213 171h1v1h-1zM220 54h1v1h-1zM223 176h1v1h-1zM233 54h1v1h-1zM234 171h1v1h-1zM237 176h1v1h-1zM251 172h1v4h-1zM283 54h1v1h-1zM284 171h1v1h-1zM291 54h1v5h-1zM296 54h1v1h-1zM320 176h1v1h-1z"/>
<path fill="#8a5224" d="M171 54h1v1h-1zM197 54h1v1h-1zM247 54h1v1h-1zM325 55h1v4h-1z"/>
<path fill="#653f24" d="M186 54h1v1h-1zM220 55h1v4h-1zM251 176h1v1h-1zM271 54h1v1h-1zM275 54h1v1h-1zM326 177h1v4h-1z"/>
<path fill="#985e36" d="M186 55h1v4h-1zM271 55h1v4h-1z"/>
<path fill="#91582d" d="M198 54h1v1h-1zM253 54h1v1h-1zM324 55h1v4h-1z"/>
<path fill="#7b4c28" d="M206 55h1v4h-1zM251 177h1v4h-1zM275 55h1v4h-1zM284 172h1v4h-1zM316 54h1v1h-1zM323 172h1v4h-1zM332 55h1v4h-1z"/>
<path fill="#744520" d="M221 55h1v4h-1zM246 55h1v4h-1zM325 54h1v1h-1zM331 55h1v4h-1z"/>
<path fill="#a46b47" d="M251 181h1v1h-1zM285 172h1v4h-1zM320 181h1v1h-1zM326 181h1v1h-1z"/>
<path fill="#a76532" d="M253 55h1v4h-1z"/>
<path fill="#ba784c" d="M294 177h1v4h-1zM307 176h1v1h-1z"/>
<path fill="#9e653e" d="M312 181h1v1h-1z"/>
<path fill="#ae6b3a" d="M316 55h1v4h-1z"/>
</g>
<path d="M42.3 8.8h2.4M129.2 8.8h-2.4" stroke="#000" stroke-width="0.5" opacity="0.6" fill="none"/>
<path d="M42.3 33.1h2.4M129.2 33.1h-2.4" stroke="#000" stroke-width="0.5" opacity="0.6" fill="none"/>
<path d="M42.3 57.4h2.4M129.2 57.4h-2.4" stroke="#000" stroke-width="0.5" opacity="0.6" fill="none"/>
<path d="M42.3 81.7h2.4M129.2 81.7h-2.4" stroke="#000" stroke-width="0.5" opacity="0.6" fill="none"/>
<path d="M42.3 106.0h2.4M129.2 106.0h-2.4" stroke="#000" stroke-width="0.5" opacity="0.6" fill="none"/>
<path d="M42.3 130.3h2.4M129.2 130.3h-2.4" stroke="#000" stroke-width="0.5" opacity="0.6" fill="none"/>
<path d="M42.3 154.6h2.4M129.2 154.6h-2.4" stroke="#000" stroke-width="0.5" opacity="0.6" fill="none"/>
<path d="M42.3 178.9h2.4M129.2 178.9h-2.4" stroke="#000" stroke-width="0.5" opacity="0.6" fill="none"/>
<path d="M42.3 203.2h2.4M129.2 203.2h-2.4" stroke="#000" stroke-width="0.5" opacity="0.6" fill="none"/>
<path d="M42.3 227.4h2.4M129.2 227.4h-2.4" stroke="#000" stroke-width="0.5" opacity="0.6" fill="none"/>
<path d="M42.3 251.7h2.4M129.2 251.7h-2.4" stroke="#000" stroke-width="0.5" opacity="0.6" fill="none"/>
<path d="M42.5 1V258.5M129.0 1V258.5" stroke="#000" stroke-width="0.4" opacity="0.5" fill="none"/>
<path d="M151 8.3h2.4M339.3 8.3h-2.4" stroke="#000" stroke-width="0.5" opacity="0.6" fill="none"/>
<path d="M151 32.6h2.4M339.3 32.6h-2.4" stroke="#000" stroke-width="0.5" opacity="0.6" fill="none"/>
<path d="M151 56.9h2.4M339.3 56.9h-2.4" stroke="#000" stroke-width="0.5" opacity="0.6" fill="none"/>
<path d="M151 81.2h2.4M339.3 81.2h-2.4" stroke="#000" stroke-width="0.5" opacity="0.6" fill="none"/>
<path d="M151 105.4h2.4M339.3 105.4h-2.4" stroke="#000" stroke-width="0.5" opacity="0.6" fill="none"/>
<path d="M151 129.7h2.4M339.3 129.7h-2.4" stroke="#000" stroke-width="0.5" opacity="0.6" fill="none"/>
<path d="M151 154.0h2.4M339.3 154.0h-2.4" stroke="#000" stroke-width="0.5" opacity="0.6" fill="none"/>
<path d="M151 178.3h2.4M339.3 178.3h-2.4" stroke="#000" stroke-width="0.5" opacity="0.6" fill="none"/>
<path d="M151 202.6h2.4M339.3 202.6h-2.4" stroke="#000" stroke-width="0.5" opacity="0.6" fill="none"/>
<path d="M151 226.9h2.4M339.3 226.9h-2.4" stroke="#000" stroke-width="0.5" opacity="0.6" fill="none"/>
<path d="M151 251.2h2.4M339.3 251.2h-2.4" stroke="#000" stroke-width="0.5" opacity="0.6" fill="none"/>
<path d="M151.2 1V258.6M339.1 1V258.6" stroke="#000" stroke-width="0.4" opacity="0.5" fill="none"/>
<path d="M464 8.3h2.4M552 8.3h-2.4" stroke="#000" stroke-width="0.5" opacity="0.6" fill="none"/>
<path d="M464 32.6h2.4M552 32.6h-2.4" stroke="#000" stroke-width="0.5" opacity="0.6" fill="none"/>
<path d="M464 56.9h2.4M552 56.9h-2.4" stroke="#000" stroke-width="0.5" opacity="0.6" fill="none"/>
<path d="M464 81.2h2.4M552 81.2h-2.4" stroke="#000" stroke-width="0.5" opacity="0.6" fill="none"/>
<path d="M464 105.4h2.4M552 105.4h-2.4" stroke="#000" stroke-width="0.5" opacity="0.6" fill="none"/>
<path d="M464 129.7h2.4M552 129.7h-2.4" stroke="#000" stroke-width="0.5" opacity="0.6" fill="none"/>
<path d="M464 154.0h2.4M552 154.0h-2.4" stroke="#000" stroke-width="0.5" opacity="0.6" fill="none"/>
<path d="M464 178.3h2.4M552 178.3h-2.4" stroke="#000" stroke-width="0.5" opacity="0.6" fill="none"/>
<path d="M464 202.6h2.4M552 202.6h-2.4" stroke="#000" stroke-width="0.5" opacity="0.6" fill="none"/>
<path d="M464 226.9h2.4M552 226.9h-2.4" stroke="#000" stroke-width="0.5" opacity="0.6" fill="none"/>
<path d="M464 251.2h2.4M552 251.2h-2.4" stroke="#000" stroke-width="0.5" opacity="0.6" fill="none"/>
<path d="M464.2 1V257.8M551.8 1V257.8" stroke="#000" stroke-width="0.4" opacity="0.5" fill="none"/>
<rect x="359.8" y="1" width="85.59999999999997" height="256.9" fill="#fff"/>
<line x1="359.8" x2="445.4" y1="8.3" y2="8.3" stroke="#e9e9eb" stroke-width="0.8"/>
<line x1="359.8" x2="445.4" y1="32.6" y2="32.6" stroke="#e9e9eb" stroke-width="0.8"/>
<line x1="359.8" x2="445.4" y1="56.9" y2="56.9" stroke="#e9e9eb" stroke-width="0.8"/>
<line x1="359.8" x2="445.4" y1="81.2" y2="81.2" stroke="#e9e9eb" stroke-width="0.8"/>
<line x1="359.8" x2="445.4" y1="105.4" y2="105.4" stroke="#e9e9eb" stroke-width="0.8"/>
<line x1="359.8" x2="445.4" y1="129.7" y2="129.7" stroke="#e9e9eb" stroke-width="0.8"/>
<line x1="359.8" x2="445.4" y1="154.0" y2="154.0" stroke="#e9e9eb" stroke-width="0.8"/>
<line x1="359.8" x2="445.4" y1="178.3" y2="178.3" stroke="#e9e9eb" stroke-width="0.8"/>
<line x1="359.8" x2="445.4" y1="202.6" y2="202.6" stroke="#e9e9eb" stroke-width="0.8"/>
<line x1="359.8" x2="445.4" y1="226.9" y2="226.9" stroke="#e9e9eb" stroke-width="0.8"/>
<line x1="359.8" x2="445.4" y1="251.2" y2="251.2" stroke="#e9e9eb" stroke-width="0.8"/>
<line x1="402.5" x2="402.5" y1="1" y2="257.9" stroke="#e6e6e8" stroke-width="0.8"/>
<line x1="359.8" x2="445.4" y1="1" y2="1" stroke="#b4b4b4" stroke-width="1.3"/>
<line x1="445.79999999999995" x2="445.79999999999995" y1="1" y2="257.9" stroke="#d0d0d0" stroke-width="0.9"/>
<line x1="359.40000000000003" x2="359.40000000000003" y1="1" y2="257.9" stroke="#d8d8d8" stroke-width="0.8"/>
<line x1="359.8" x2="445.4" y1="257.9" y2="257.9" stroke="#efefef" stroke-width="0.7"/>
<line x1="402.6" x2="402.6" y1="255.7" y2="257.9" stroke="#aaa" stroke-width="0.7"/>
<line x1="402.6" x2="402.6" y1="1" y2="3.2" stroke="#888" stroke-width="0.8"/>
<polyline points="444.1,1 444.1,3.4 444.5,8.3 445.2,13.1 445.4,18.0 445.4,22.9 445.4,27.7 445.4,32.6 441.5,37.4 445.4,42.3 445.4,47.2 445.4,52.0 426.8,56.9 369.2,61.7 364.1,66.6 363.2,71.4 362.4,76.3 359.8,81.2 359.8,86.0 359.8,90.9 359.8,95.7 359.8,100.6 359.8,105.4 359.8,110.3 359.8,115.2 359.8,120.0 402.6,124.9 443.7,129.7 444.9,134.6 442.8,139.5 414.6,144.3 429.1,149.2 443.0,154.0 433.4,158.9 424.0,163.7 414.6,168.6 421.5,173.5 413.6,178.3 371.8,183.9 367.9,188.8 370.9,194.6 366.6,198.7 361.9,203.1 361.1,207.5 361.9,212.8 425.5,217.8 444.5,222.6 445.4,226.9 445.4,231.8 445.4,236.6 445.4,241.5 445.4,246.3 445.4,251.2 445.4,256.0 445.4,257.9" fill="none" stroke="#0a0a0a" stroke-width="1.6" stroke-linejoin="round"/>
<polyline points="359.8,1 359.8,3.4 359.8,8.3 359.8,13.1 359.8,18.0 359.8,22.9 359.8,27.7 359.8,32.6 359.8,37.4 359.8,42.3 359.8,47.2 359.8,52.0 364.7,56.9 359.8,61.7 359.8,66.6 359.8,71.4 359.8,76.3 359.8,81.2 359.8,86.0 359.8,90.9 359.8,95.7 359.8,100.6 359.8,105.4 359.8,110.3 402.6,115.2 445.4,120.0 402.6,124.9 361.5,129.7 360.3,134.6 362.4,139.5 390.6,144.3 376.1,149.2 362.2,154.0 371.8,158.9 381.2,163.7 390.6,168.6 380.7,173.5 388.6,178.3 433.4,183.9 437.3,188.8 434.3,194.6 438.6,198.7 443.3,203.1 444.1,207.5 443.3,212.8 379.7,217.8 360.7,222.6 359.8,226.9 359.8,231.8 359.8,236.6 359.8,241.5 359.8,246.3 359.8,251.2 359.8,256.0 359.8,257.9" fill="none" stroke="#E08F5C" stroke-width="1.4" stroke-linejoin="round"/>
<polyline points="361.1,1 361.1,3.4 360.7,8.3 360.0,13.1 359.8,18.0 359.8,22.9 359.8,27.7 359.8,32.6 363.7,37.4 359.8,42.3 359.8,47.2 359.8,52.0 373.5,56.9 436.0,61.7 441.1,66.6 442.0,71.4 442.8,76.3 445.4,81.2 445.4,86.0 445.4,90.9 445.4,95.7 445.4,100.6 445.4,105.4 445.4,110.3 402.6,115.2 359.8,120.0 359.8,124.9 359.8,129.7 359.8,134.6 359.8,139.5 359.8,144.3 359.8,149.2 359.8,154.0 359.8,158.9 359.8,163.7 359.8,168.6 362.8,173.5 362.8,178.3 359.8,183.9 359.8,188.8 359.8,194.6 359.8,198.7 359.8,203.1 359.8,207.5 359.8,212.8 359.8,217.8 359.8,222.6 359.8,226.9 359.8,231.8 359.8,236.6 359.8,241.5 359.8,246.3 359.8,251.2 359.8,256.0 359.8,257.9" fill="none" stroke="#C2651F" stroke-width="1.6" stroke-linejoin="round"/>
<g font-family="Liberation Sans, Arial, Helvetica, sans-serif" fill="#1c1c1c" stroke="#1c1c1c" stroke-width="0.2" style="text-rendering:geometricPrecision">
<text x="39.7" y="13" font-size="10" text-anchor="end">2010</text>
<text x="39.7" y="37" font-size="10" text-anchor="end">2015</text>
<text x="39.7" y="61" font-size="10" text-anchor="end">2020</text>
<text x="39.7" y="85" font-size="10" text-anchor="end">2025</text>
<text x="39.7" y="110" font-size="10" text-anchor="end">2030</text>
<text x="39.7" y="134" font-size="10" text-anchor="end">2035</text>
<text x="39.7" y="158" font-size="10" text-anchor="end">2040</text>
<text x="39.7" y="183" font-size="10" text-anchor="end">2045</text>
<text x="39.7" y="207" font-size="10" text-anchor="end">2050</text>
<text x="39.7" y="231" font-size="10" text-anchor="end">2055</text>
<text x="39.7" y="256" font-size="10" text-anchor="end">2060</text>
<text transform="translate(8.9,127.4) rotate(-90)" font-size="11.5" text-anchor="middle">Time (ms)</text>
<text x="48.5" y="272.5" font-size="11.5" textLength="72" lengthAdjust="spacingAndGlyphs">Reference LFC</text>
<text x="214.6" y="273" font-size="11.5" textLength="63.6" lengthAdjust="spacingAndGlyphs">Realizations</text>
<text x="467.8" y="275.7" font-size="11.5" textLength="74.5" lengthAdjust="spacingAndGlyphs">MMAP of LFC</text>
<text x="349.5" y="285.3" font-size="11.5" textLength="103.6" lengthAdjust="spacingAndGlyphs">Marginal probability</text>
<text x="359.5" y="272" font-size="10" text-anchor="middle">0</text>
<text x="402.9" y="272" font-size="10" text-anchor="middle">0.5</text>
<text x="445.2" y="272" font-size="10" text-anchor="middle">1</text>
</g></svg>
</body></html>
